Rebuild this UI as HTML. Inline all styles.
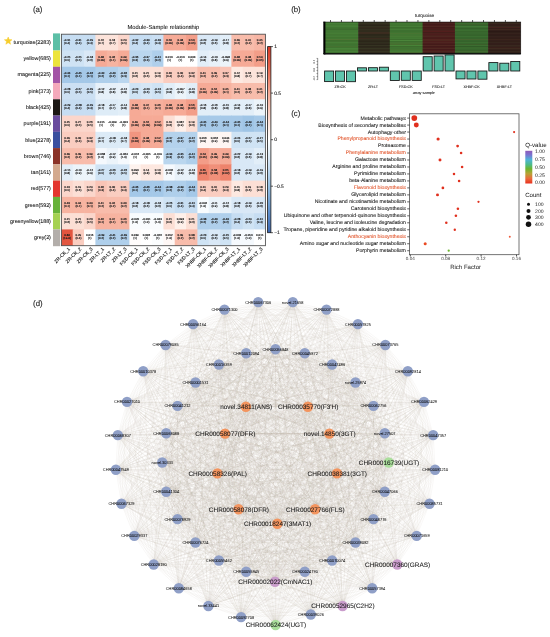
<!DOCTYPE html>
<html><head><meta charset="utf-8"><title>Figure</title>
<style>
html,body{margin:0;padding:0;background:#fff;}
svg{display:block;font-family:"Liberation Sans", Arial, sans-serif;text-rendering:geometricPrecision;}
</style></head><body>
<svg width="550" height="637" viewBox="0 0 550 637">
<rect width="550" height="637" fill="#fff"/>
<g id="pa">
<text x="32.9" y="11.8" font-size="7.8" fill="#222" stroke="#222" stroke-width="0.12">(a)</text>
<text x="163.4" y="28.7" font-size="5.8" text-anchor="middle" fill="#111" stroke="#111" stroke-width="0.06">Module-Sample relationship</text>
<polygon points="8.20,37.00 9.23,39.58 12.00,39.76 9.86,41.54 10.55,44.24 8.20,42.75 5.85,44.24 6.54,41.54 4.40,39.76 7.17,39.58" fill="#f6cd2c" stroke="#f6cd2c" stroke-width="0.5" stroke-linejoin="round"/>
<rect x="53.0" y="33.40" width="7.1" height="17.12" fill="#5cbfa6"/>
<text x="50.9" y="43.88" font-size="5.35" text-anchor="end" fill="#111" stroke="#111" stroke-width="0.08">turquoise(2283)</text>
<rect x="61.40" y="34.20" width="11.93" height="16.87" fill="#c6ddf2"/>
<rect x="72.73" y="34.20" width="11.93" height="16.87" fill="#c6ddf2"/>
<rect x="84.07" y="34.20" width="11.93" height="16.87" fill="#c6ddf2"/>
<rect x="95.40" y="34.20" width="11.93" height="16.87" fill="#fce3da"/>
<rect x="106.73" y="34.20" width="11.93" height="16.87" fill="#fce3da"/>
<rect x="118.07" y="34.20" width="11.93" height="16.87" fill="#fbd6cb"/>
<rect x="129.40" y="34.20" width="11.93" height="16.87" fill="#c6ddf2"/>
<rect x="140.73" y="34.20" width="11.93" height="16.87" fill="#c6ddf2"/>
<rect x="152.07" y="34.20" width="11.93" height="16.87" fill="#cadff3"/>
<rect x="163.40" y="34.20" width="11.93" height="16.87" fill="#f6aa96"/>
<rect x="174.73" y="34.20" width="11.93" height="16.87" fill="#f6aa96"/>
<rect x="186.07" y="34.20" width="11.93" height="16.87" fill="#f39d88"/>
<rect x="197.40" y="34.20" width="11.93" height="16.87" fill="#d9e8f6"/>
<rect x="208.73" y="34.20" width="11.93" height="16.87" fill="#d9e8f6"/>
<rect x="220.07" y="34.20" width="11.93" height="16.87" fill="#e2eef8"/>
<rect x="231.40" y="34.20" width="11.93" height="16.87" fill="#f8bcab"/>
<rect x="242.73" y="34.20" width="11.93" height="16.87" fill="#f8bcab"/>
<rect x="254.07" y="34.20" width="11.33" height="16.87" fill="#f7b6a5"/>
<rect x="53.0" y="50.47" width="7.1" height="16.32" fill="#ece43c"/>
<text x="50.9" y="60.15" font-size="5.35" text-anchor="end" fill="#111" stroke="#111" stroke-width="0.08">yellow(685)</text>
<rect x="61.40" y="50.47" width="11.93" height="16.87" fill="#cfe3f4"/>
<rect x="72.73" y="50.47" width="11.93" height="16.87" fill="#cfe3f4"/>
<rect x="84.07" y="50.47" width="11.93" height="16.87" fill="#d9e8f6"/>
<rect x="95.40" y="50.47" width="11.93" height="16.87" fill="#f6aa96"/>
<rect x="106.73" y="50.47" width="11.93" height="16.87" fill="#f7b3a0"/>
<rect x="118.07" y="50.47" width="11.93" height="16.87" fill="#f6aa96"/>
<rect x="129.40" y="50.47" width="11.93" height="16.87" fill="#bad6ee"/>
<rect x="140.73" y="50.47" width="11.93" height="16.87" fill="#bad6ee"/>
<rect x="152.07" y="50.47" width="11.93" height="16.87" fill="#afcfeb"/>
<rect x="163.40" y="50.47" width="11.93" height="16.87" fill="#ffffff"/>
<rect x="174.73" y="50.47" width="11.93" height="16.87" fill="#ffffff"/>
<rect x="186.07" y="50.47" width="11.93" height="16.87" fill="#ffffff"/>
<rect x="197.40" y="50.47" width="11.93" height="16.87" fill="#e2eef8"/>
<rect x="208.73" y="50.47" width="11.93" height="16.87" fill="#e8f1f9"/>
<rect x="220.07" y="50.47" width="11.93" height="16.87" fill="#ecf4fa"/>
<rect x="231.40" y="50.47" width="11.93" height="16.87" fill="#f6aa96"/>
<rect x="242.73" y="50.47" width="11.93" height="16.87" fill="#f6aa96"/>
<rect x="254.07" y="50.47" width="11.33" height="16.87" fill="#f39d88"/>
<rect x="53.0" y="66.74" width="7.1" height="16.32" fill="#a354a6"/>
<text x="50.9" y="76.42" font-size="5.35" text-anchor="end" fill="#111" stroke="#111" stroke-width="0.08">magenta(225)</text>
<rect x="61.40" y="66.74" width="11.93" height="16.87" fill="#a4c8e8"/>
<rect x="72.73" y="66.74" width="11.93" height="16.87" fill="#a4c8e8"/>
<rect x="84.07" y="66.74" width="11.93" height="16.87" fill="#a4c8e8"/>
<rect x="95.40" y="66.74" width="11.93" height="16.87" fill="#afcfeb"/>
<rect x="106.73" y="66.74" width="11.93" height="16.87" fill="#afcfeb"/>
<rect x="118.07" y="66.74" width="11.93" height="16.87" fill="#bad6ee"/>
<rect x="129.40" y="66.74" width="11.93" height="16.87" fill="#fcdfd5"/>
<rect x="140.73" y="66.74" width="11.93" height="16.87" fill="#fcdfd5"/>
<rect x="152.07" y="66.74" width="11.93" height="16.87" fill="#fcdfd5"/>
<rect x="163.40" y="66.74" width="11.93" height="16.87" fill="#facdc0"/>
<rect x="174.73" y="66.74" width="11.93" height="16.87" fill="#facdc0"/>
<rect x="186.07" y="66.74" width="11.93" height="16.87" fill="#facdc0"/>
<rect x="197.40" y="66.74" width="11.93" height="16.87" fill="#f8bcab"/>
<rect x="208.73" y="66.74" width="11.93" height="16.87" fill="#f8bcab"/>
<rect x="220.07" y="66.74" width="11.93" height="16.87" fill="#f9c4b6"/>
<rect x="231.40" y="66.74" width="11.93" height="16.87" fill="#fdeae2"/>
<rect x="242.73" y="66.74" width="11.93" height="16.87" fill="#fce3da"/>
<rect x="254.07" y="66.74" width="11.33" height="16.87" fill="#fce3da"/>
<rect x="53.0" y="83.01" width="7.1" height="16.32" fill="#f4a9bb"/>
<text x="50.9" y="92.69" font-size="5.35" text-anchor="end" fill="#111" stroke="#111" stroke-width="0.08">pink(373)</text>
<rect x="61.40" y="83.01" width="11.93" height="16.87" fill="#cce0f3"/>
<rect x="72.73" y="83.01" width="11.93" height="16.87" fill="#cce0f3"/>
<rect x="84.07" y="83.01" width="11.93" height="16.87" fill="#cce0f3"/>
<rect x="95.40" y="83.01" width="11.93" height="16.87" fill="#e6f0f9"/>
<rect x="106.73" y="83.01" width="11.93" height="16.87" fill="#e6f0f9"/>
<rect x="118.07" y="83.01" width="11.93" height="16.87" fill="#e8f1f9"/>
<rect x="129.40" y="83.01" width="11.93" height="16.87" fill="#cfe3f4"/>
<rect x="140.73" y="83.01" width="11.93" height="16.87" fill="#d5e6f5"/>
<rect x="152.07" y="83.01" width="11.93" height="16.87" fill="#cfe3f4"/>
<rect x="163.40" y="83.01" width="11.93" height="16.87" fill="#e2eef8"/>
<rect x="174.73" y="83.01" width="11.93" height="16.87" fill="#ecf4fa"/>
<rect x="186.07" y="83.01" width="11.93" height="16.87" fill="#e2eef8"/>
<rect x="197.40" y="83.01" width="11.93" height="16.87" fill="#f6aa96"/>
<rect x="208.73" y="83.01" width="11.93" height="16.87" fill="#f6aa96"/>
<rect x="220.07" y="83.01" width="11.93" height="16.87" fill="#f7b3a0"/>
<rect x="231.40" y="83.01" width="11.93" height="16.87" fill="#f8bcab"/>
<rect x="242.73" y="83.01" width="11.93" height="16.87" fill="#f8bcab"/>
<rect x="254.07" y="83.01" width="11.33" height="16.87" fill="#f8bcab"/>
<rect x="53.0" y="99.28" width="7.1" height="16.32" fill="#1b1714"/>
<text x="50.9" y="108.96" font-size="5.35" text-anchor="end" fill="#111" stroke="#111" stroke-width="0.08">black(425)</text>
<rect x="61.40" y="99.28" width="11.93" height="16.87" fill="#c6ddf2"/>
<rect x="72.73" y="99.28" width="11.93" height="16.87" fill="#c6ddf2"/>
<rect x="84.07" y="99.28" width="11.93" height="16.87" fill="#c6ddf2"/>
<rect x="95.40" y="99.28" width="11.93" height="16.87" fill="#deecf7"/>
<rect x="106.73" y="99.28" width="11.93" height="16.87" fill="#deecf7"/>
<rect x="118.07" y="99.28" width="11.93" height="16.87" fill="#e2eef8"/>
<rect x="129.40" y="99.28" width="11.93" height="16.87" fill="#f6aa96"/>
<rect x="140.73" y="99.28" width="11.93" height="16.87" fill="#f7af9c"/>
<rect x="152.07" y="99.28" width="11.93" height="16.87" fill="#f7af9c"/>
<rect x="163.40" y="99.28" width="11.93" height="16.87" fill="#f6aa96"/>
<rect x="174.73" y="99.28" width="11.93" height="16.87" fill="#f6aa96"/>
<rect x="186.07" y="99.28" width="11.93" height="16.87" fill="#f39d88"/>
<rect x="197.40" y="99.28" width="11.93" height="16.87" fill="#e2eef8"/>
<rect x="208.73" y="99.28" width="11.93" height="16.87" fill="#e2eef8"/>
<rect x="220.07" y="99.28" width="11.93" height="16.87" fill="#e2eef8"/>
<rect x="231.40" y="99.28" width="11.93" height="16.87" fill="#e2eef8"/>
<rect x="242.73" y="99.28" width="11.93" height="16.87" fill="#e2eef8"/>
<rect x="254.07" y="99.28" width="11.33" height="16.87" fill="#ecf4fa"/>
<rect x="53.0" y="115.55" width="7.1" height="16.32" fill="#6a4c9e"/>
<text x="50.9" y="125.23" font-size="5.35" text-anchor="end" fill="#111" stroke="#111" stroke-width="0.08">purple(191)</text>
<rect x="61.40" y="115.55" width="11.93" height="16.87" fill="#fbd6cb"/>
<rect x="72.73" y="115.55" width="11.93" height="16.87" fill="#fbd6cb"/>
<rect x="84.07" y="115.55" width="11.93" height="16.87" fill="#fbd6cb"/>
<rect x="95.40" y="115.55" width="11.93" height="16.87" fill="#ffffff"/>
<rect x="106.73" y="115.55" width="11.93" height="16.87" fill="#ffffff"/>
<rect x="118.07" y="115.55" width="11.93" height="16.87" fill="#ffffff"/>
<rect x="129.40" y="115.55" width="11.93" height="16.87" fill="#f6aa96"/>
<rect x="140.73" y="115.55" width="11.93" height="16.87" fill="#f6aa96"/>
<rect x="152.07" y="115.55" width="11.93" height="16.87" fill="#f6aa96"/>
<rect x="163.40" y="115.55" width="11.93" height="16.87" fill="#fcdfd5"/>
<rect x="174.73" y="115.55" width="11.93" height="16.87" fill="#fef0ea"/>
<rect x="186.07" y="115.55" width="11.93" height="16.87" fill="#fcdfd5"/>
<rect x="197.40" y="115.55" width="11.93" height="16.87" fill="#a6c9e8"/>
<rect x="208.73" y="115.55" width="11.93" height="16.87" fill="#a6c9e8"/>
<rect x="220.07" y="115.55" width="11.93" height="16.87" fill="#a6c9e8"/>
<rect x="231.40" y="115.55" width="11.93" height="16.87" fill="#a6c9e8"/>
<rect x="242.73" y="115.55" width="11.93" height="16.87" fill="#9fc5e6"/>
<rect x="254.07" y="115.55" width="11.33" height="16.87" fill="#a6c9e8"/>
<rect x="53.0" y="131.82" width="7.1" height="16.32" fill="#3a4f9f"/>
<text x="50.9" y="141.50" font-size="5.35" text-anchor="end" fill="#111" stroke="#111" stroke-width="0.08">blue(2278)</text>
<rect x="61.40" y="131.82" width="11.93" height="16.87" fill="#facdc0"/>
<rect x="72.73" y="131.82" width="11.93" height="16.87" fill="#facdc0"/>
<rect x="84.07" y="131.82" width="11.93" height="16.87" fill="#facdc0"/>
<rect x="95.40" y="131.82" width="11.93" height="16.87" fill="#dcebf7"/>
<rect x="106.73" y="131.82" width="11.93" height="16.87" fill="#dcebf7"/>
<rect x="118.07" y="131.82" width="11.93" height="16.87" fill="#dcebf7"/>
<rect x="129.40" y="131.82" width="11.93" height="16.87" fill="#f29580"/>
<rect x="140.73" y="131.82" width="11.93" height="16.87" fill="#f6aa96"/>
<rect x="152.07" y="131.82" width="11.93" height="16.87" fill="#f6aa96"/>
<rect x="163.40" y="131.82" width="11.93" height="16.87" fill="#b4d2ec"/>
<rect x="174.73" y="131.82" width="11.93" height="16.87" fill="#b4d2ec"/>
<rect x="186.07" y="131.82" width="11.93" height="16.87" fill="#b4d2ec"/>
<rect x="197.40" y="131.82" width="11.93" height="16.87" fill="#fef6f3"/>
<rect x="208.73" y="131.82" width="11.93" height="16.87" fill="#fef6f3"/>
<rect x="220.07" y="131.82" width="11.93" height="16.87" fill="#fef6f3"/>
<rect x="231.40" y="131.82" width="11.93" height="16.87" fill="#cfe3f4"/>
<rect x="242.73" y="131.82" width="11.93" height="16.87" fill="#cfe3f4"/>
<rect x="254.07" y="131.82" width="11.33" height="16.87" fill="#cfe3f4"/>
<rect x="53.0" y="148.08" width="7.1" height="16.32" fill="#8b3328"/>
<text x="50.9" y="157.77" font-size="5.35" text-anchor="end" fill="#111" stroke="#111" stroke-width="0.08">brown(746)</text>
<rect x="61.40" y="148.08" width="11.93" height="16.87" fill="#f8bcab"/>
<rect x="72.73" y="148.08" width="11.93" height="16.87" fill="#f8bcab"/>
<rect x="84.07" y="148.08" width="11.93" height="16.87" fill="#f8bcab"/>
<rect x="95.40" y="148.08" width="11.93" height="16.87" fill="#f5f9fd"/>
<rect x="106.73" y="148.08" width="11.93" height="16.87" fill="#ecf4fa"/>
<rect x="118.07" y="148.08" width="11.93" height="16.87" fill="#f5f9fd"/>
<rect x="129.40" y="148.08" width="11.93" height="16.87" fill="#ffffff"/>
<rect x="140.73" y="148.08" width="11.93" height="16.87" fill="#ffffff"/>
<rect x="152.07" y="148.08" width="11.93" height="16.87" fill="#ffffff"/>
<rect x="163.40" y="148.08" width="11.93" height="16.87" fill="#bad6ee"/>
<rect x="174.73" y="148.08" width="11.93" height="16.87" fill="#bad6ee"/>
<rect x="186.07" y="148.08" width="11.93" height="16.87" fill="#afcfeb"/>
<rect x="197.40" y="148.08" width="11.93" height="16.87" fill="#f39d88"/>
<rect x="208.73" y="148.08" width="11.93" height="16.87" fill="#f6aa96"/>
<rect x="220.07" y="148.08" width="11.93" height="16.87" fill="#f6aa96"/>
<rect x="231.40" y="148.08" width="11.93" height="16.87" fill="#d9e8f6"/>
<rect x="242.73" y="148.08" width="11.93" height="16.87" fill="#d9e8f6"/>
<rect x="254.07" y="148.08" width="11.33" height="16.87" fill="#e2eef8"/>
<rect x="53.0" y="164.35" width="7.1" height="16.32" fill="#d3a98e"/>
<text x="50.9" y="174.04" font-size="5.35" text-anchor="end" fill="#111" stroke="#111" stroke-width="0.08">tan(161)</text>
<rect x="61.40" y="164.35" width="11.93" height="16.87" fill="#e2eef8"/>
<rect x="72.73" y="164.35" width="11.93" height="16.87" fill="#ecf4fa"/>
<rect x="84.07" y="164.35" width="11.93" height="16.87" fill="#ecf4fa"/>
<rect x="95.40" y="164.35" width="11.93" height="16.87" fill="#cfe3f4"/>
<rect x="106.73" y="164.35" width="11.93" height="16.87" fill="#cfe3f4"/>
<rect x="118.07" y="164.35" width="11.93" height="16.87" fill="#cfe3f4"/>
<rect x="129.40" y="164.35" width="11.93" height="16.87" fill="#fef3ee"/>
<rect x="140.73" y="164.35" width="11.93" height="16.87" fill="#fde8e0"/>
<rect x="152.07" y="164.35" width="11.93" height="16.87" fill="#fde8e0"/>
<rect x="163.40" y="164.35" width="11.93" height="16.87" fill="#f5f9fd"/>
<rect x="174.73" y="164.35" width="11.93" height="16.87" fill="#e8f1f9"/>
<rect x="186.07" y="164.35" width="11.93" height="16.87" fill="#e8f1f9"/>
<rect x="197.40" y="164.35" width="11.93" height="16.87" fill="#ee836c"/>
<rect x="208.73" y="164.35" width="11.93" height="16.87" fill="#f0907a"/>
<rect x="220.07" y="164.35" width="11.93" height="16.87" fill="#ee836c"/>
<rect x="231.40" y="164.35" width="11.93" height="16.87" fill="#d9e8f6"/>
<rect x="242.73" y="164.35" width="11.93" height="16.87" fill="#d9e8f6"/>
<rect x="254.07" y="164.35" width="11.33" height="16.87" fill="#d9e8f6"/>
<rect x="53.0" y="180.62" width="7.1" height="16.32" fill="#e3362f"/>
<text x="50.9" y="190.31" font-size="5.35" text-anchor="end" fill="#111" stroke="#111" stroke-width="0.08">red(577)</text>
<rect x="61.40" y="180.62" width="11.93" height="16.87" fill="#fbd6cb"/>
<rect x="72.73" y="180.62" width="11.93" height="16.87" fill="#fcdfd5"/>
<rect x="84.07" y="180.62" width="11.93" height="16.87" fill="#fbd6cb"/>
<rect x="95.40" y="180.62" width="11.93" height="16.87" fill="#f9c4b6"/>
<rect x="106.73" y="180.62" width="11.93" height="16.87" fill="#facdc0"/>
<rect x="118.07" y="180.62" width="11.93" height="16.87" fill="#facdc0"/>
<rect x="129.40" y="180.62" width="11.93" height="16.87" fill="#a4c8e8"/>
<rect x="140.73" y="180.62" width="11.93" height="16.87" fill="#a4c8e8"/>
<rect x="152.07" y="180.62" width="11.93" height="16.87" fill="#a4c8e8"/>
<rect x="163.40" y="180.62" width="11.93" height="16.87" fill="#afcfeb"/>
<rect x="174.73" y="180.62" width="11.93" height="16.87" fill="#afcfeb"/>
<rect x="186.07" y="180.62" width="11.93" height="16.87" fill="#a4c8e8"/>
<rect x="197.40" y="180.62" width="11.93" height="16.87" fill="#facdc0"/>
<rect x="208.73" y="180.62" width="11.93" height="16.87" fill="#facdc0"/>
<rect x="220.07" y="180.62" width="11.93" height="16.87" fill="#facdc0"/>
<rect x="231.40" y="180.62" width="11.93" height="16.87" fill="#fde8e0"/>
<rect x="242.73" y="180.62" width="11.93" height="16.87" fill="#fcdfd5"/>
<rect x="254.07" y="180.62" width="11.33" height="16.87" fill="#fcdfd5"/>
<rect x="53.0" y="196.89" width="7.1" height="16.32" fill="#68b23a"/>
<text x="50.9" y="206.58" font-size="5.35" text-anchor="end" fill="#111" stroke="#111" stroke-width="0.08">green(592)</text>
<rect x="61.40" y="196.89" width="11.93" height="16.87" fill="#f7b3a0"/>
<rect x="72.73" y="196.89" width="11.93" height="16.87" fill="#f7b3a0"/>
<rect x="84.07" y="196.89" width="11.93" height="16.87" fill="#f7b3a0"/>
<rect x="95.40" y="196.89" width="11.93" height="16.87" fill="#f8bcab"/>
<rect x="106.73" y="196.89" width="11.93" height="16.87" fill="#f8bcab"/>
<rect x="118.07" y="196.89" width="11.93" height="16.87" fill="#f8bcab"/>
<rect x="129.40" y="196.89" width="11.93" height="16.87" fill="#d9e8f6"/>
<rect x="140.73" y="196.89" width="11.93" height="16.87" fill="#d9e8f6"/>
<rect x="152.07" y="196.89" width="11.93" height="16.87" fill="#d9e8f6"/>
<rect x="163.40" y="196.89" width="11.93" height="16.87" fill="#cfe3f4"/>
<rect x="174.73" y="196.89" width="11.93" height="16.87" fill="#c6ddf2"/>
<rect x="186.07" y="196.89" width="11.93" height="16.87" fill="#c6ddf2"/>
<rect x="197.40" y="196.89" width="11.93" height="16.87" fill="#f9fcfe"/>
<rect x="208.73" y="196.89" width="11.93" height="16.87" fill="#ecf4fa"/>
<rect x="220.07" y="196.89" width="11.93" height="16.87" fill="#e8f1f9"/>
<rect x="231.40" y="196.89" width="11.93" height="16.87" fill="#d9e8f6"/>
<rect x="242.73" y="196.89" width="11.93" height="16.87" fill="#d9e8f6"/>
<rect x="254.07" y="196.89" width="11.33" height="16.87" fill="#d9e8f6"/>
<rect x="53.0" y="213.16" width="7.1" height="16.32" fill="#a5d152"/>
<text x="50.9" y="222.85" font-size="5.35" text-anchor="end" fill="#111" stroke="#111" stroke-width="0.08">greenyellow(188)</text>
<rect x="61.40" y="213.16" width="11.93" height="16.87" fill="#fcdfd5"/>
<rect x="72.73" y="213.16" width="11.93" height="16.87" fill="#fcdfd5"/>
<rect x="84.07" y="213.16" width="11.93" height="16.87" fill="#fbd6cb"/>
<rect x="95.40" y="213.16" width="11.93" height="16.87" fill="#f7b3a0"/>
<rect x="106.73" y="213.16" width="11.93" height="16.87" fill="#f7b3a0"/>
<rect x="118.07" y="213.16" width="11.93" height="16.87" fill="#f7b3a0"/>
<rect x="129.40" y="213.16" width="11.93" height="16.87" fill="#f9fcfe"/>
<rect x="140.73" y="213.16" width="11.93" height="16.87" fill="#f9fcfe"/>
<rect x="152.07" y="213.16" width="11.93" height="16.87" fill="#f9fcfe"/>
<rect x="163.40" y="213.16" width="11.93" height="16.87" fill="#fcdfd5"/>
<rect x="174.73" y="213.16" width="11.93" height="16.87" fill="#fef0ea"/>
<rect x="186.07" y="213.16" width="11.93" height="16.87" fill="#fcdfd5"/>
<rect x="197.40" y="213.16" width="11.93" height="16.87" fill="#afcfeb"/>
<rect x="208.73" y="213.16" width="11.93" height="16.87" fill="#afcfeb"/>
<rect x="220.07" y="213.16" width="11.93" height="16.87" fill="#afcfeb"/>
<rect x="231.40" y="213.16" width="11.93" height="16.87" fill="#c6ddf2"/>
<rect x="242.73" y="213.16" width="11.93" height="16.87" fill="#cfe3f4"/>
<rect x="254.07" y="213.16" width="11.33" height="16.87" fill="#c6ddf2"/>
<rect x="53.0" y="229.43" width="7.1" height="16.77" fill="#b3aeaa"/>
<text x="50.9" y="239.12" font-size="5.35" text-anchor="end" fill="#111" stroke="#111" stroke-width="0.08">grey(2)</text>
<rect x="61.40" y="229.43" width="11.93" height="16.27" fill="#e2553f"/>
<rect x="72.73" y="229.43" width="11.93" height="16.27" fill="#facdc0"/>
<rect x="84.07" y="229.43" width="11.93" height="16.27" fill="#ffffff"/>
<rect x="95.40" y="229.43" width="11.93" height="16.27" fill="#afcfeb"/>
<rect x="106.73" y="229.43" width="11.93" height="16.27" fill="#afcfeb"/>
<rect x="118.07" y="229.43" width="11.93" height="16.27" fill="#afcfeb"/>
<rect x="129.40" y="229.43" width="11.93" height="16.27" fill="#fffcfb"/>
<rect x="140.73" y="229.43" width="11.93" height="16.27" fill="#ffffff"/>
<rect x="152.07" y="229.43" width="11.93" height="16.27" fill="#fbfdfe"/>
<rect x="163.40" y="229.43" width="11.93" height="16.27" fill="#fef7f5"/>
<rect x="174.73" y="229.43" width="11.93" height="16.27" fill="#f8bcab"/>
<rect x="186.07" y="229.43" width="11.93" height="16.27" fill="#f8bcab"/>
<rect x="197.40" y="229.43" width="11.93" height="16.27" fill="#cfe3f4"/>
<rect x="208.73" y="229.43" width="11.93" height="16.27" fill="#d9e8f6"/>
<rect x="220.07" y="229.43" width="11.93" height="16.27" fill="#cfe3f4"/>
<rect x="231.40" y="229.43" width="11.93" height="16.27" fill="#f5f9fd"/>
<rect x="242.73" y="229.43" width="11.93" height="16.27" fill="#f5f9fd"/>
<rect x="254.07" y="229.43" width="11.33" height="16.27" fill="#ffffff"/>
<g font-size="2.95" text-anchor="middle" fill="#1c1c1c" stroke="#1c1c1c" stroke-width="0.14" id="celltxt">
<text x="67.07" y="41">-0.31</text><text x="67.07" y="44">(0.4)</text>
<text x="78.40" y="41">-0.31</text><text x="78.40" y="44">(0.4)</text>
<text x="89.73" y="41">-0.29</text><text x="89.73" y="44">(0.4)</text>
<text x="101.07" y="41">0.16</text><text x="101.07" y="44">(0.7)</text>
<text x="112.40" y="41">0.18</text><text x="112.40" y="44">(0.7)</text>
<text x="123.73" y="41">0.24</text><text x="123.73" y="44">(0.5)</text>
<text x="135.07" y="41">-0.32</text><text x="135.07" y="44">(0.4)</text>
<text x="146.40" y="41">-0.30</text><text x="146.40" y="44">(0.4)</text>
<text x="157.73" y="41">-0.30</text><text x="157.73" y="44">(0.4)</text>
<text x="169.07" y="41">0.50</text><text x="169.07" y="44">(0.09)</text>
<text x="180.40" y="41">0.48</text><text x="180.40" y="44">(0.09)</text>
<text x="191.73" y="41">0.53</text><text x="191.73" y="44">(0.05)</text>
<text x="203.07" y="41">-0.20</text><text x="203.07" y="44">(0.6)</text>
<text x="214.40" y="41">-0.19</text><text x="214.40" y="44">(0.6)</text>
<text x="225.73" y="41">-0.17</text><text x="225.73" y="44">(0.8)</text>
<text x="237.07" y="41">0.39</text><text x="237.07" y="44">(0.2)</text>
<text x="248.40" y="41">0.41</text><text x="248.40" y="44">(0.2)</text>
<text x="259.73" y="41">0.45</text><text x="259.73" y="44">(0.2)</text>
<text x="67.07" y="58">-0.25</text><text x="67.07" y="61">(0.5)</text>
<text x="78.40" y="58">-0.25</text><text x="78.40" y="61">(0.5)</text>
<text x="89.73" y="58">-0.18</text><text x="89.73" y="61">(0.6)</text>
<text x="101.07" y="58">0.48</text><text x="101.07" y="61">(0.09)</text>
<text x="112.40" y="58">0.46</text><text x="112.40" y="61">(0.1)</text>
<text x="123.73" y="58">0.49</text><text x="123.73" y="61">(0.09)</text>
<text x="135.07" y="58">-0.36</text><text x="135.07" y="61">(0.3)</text>
<text x="146.40" y="58">-0.37</text><text x="146.40" y="61">(0.3)</text>
<text x="157.73" y="58">-0.41</text><text x="157.73" y="61">(0.2)</text>
<text x="169.07" y="58">0.013</text><text x="169.07" y="61">(1)</text>
<text x="180.40" y="58">-0.013</text><text x="180.40" y="61">(1)</text>
<text x="191.73" y="58">0.003</text><text x="191.73" y="61">(1)</text>
<text x="203.07" y="58">-0.14</text><text x="203.07" y="61">(0.8)</text>
<text x="214.40" y="58">-0.13</text><text x="214.40" y="61">(0.8)</text>
<text x="225.73" y="58">-0.098</text><text x="225.73" y="61">(0.9)</text>
<text x="237.07" y="58">0.48</text><text x="237.07" y="61">(0.09)</text>
<text x="248.40" y="58">0.48</text><text x="248.40" y="61">(0.09)</text>
<text x="259.73" y="58">0.54</text><text x="259.73" y="61">(0.05)</text>
<text x="67.07" y="74">-0.44</text><text x="67.07" y="77">(0.1)</text>
<text x="78.40" y="74">-0.45</text><text x="78.40" y="77">(0.1)</text>
<text x="89.73" y="74">-0.46</text><text x="89.73" y="77">(0.1)</text>
<text x="101.07" y="74">-0.40</text><text x="101.07" y="77">(0.2)</text>
<text x="112.40" y="74">-0.40</text><text x="112.40" y="77">(0.2)</text>
<text x="123.73" y="74">-0.36</text><text x="123.73" y="77">(0.3)</text>
<text x="135.07" y="74">0.21</text><text x="135.07" y="77">(0.6)</text>
<text x="146.40" y="74">0.21</text><text x="146.40" y="77">(0.6)</text>
<text x="157.73" y="74">0.19</text><text x="157.73" y="77">(0.6)</text>
<text x="169.07" y="74">0.30</text><text x="169.07" y="77">(0.4)</text>
<text x="180.40" y="74">0.30</text><text x="180.40" y="77">(0.4)</text>
<text x="191.73" y="74">0.32</text><text x="191.73" y="77">(0.4)</text>
<text x="203.07" y="74">0.41</text><text x="203.07" y="77">(0.2)</text>
<text x="214.40" y="74">0.39</text><text x="214.40" y="77">(0.2)</text>
<text x="225.73" y="74">0.37</text><text x="225.73" y="77">(0.3)</text>
<text x="237.07" y="74">0.12</text><text x="237.07" y="77">(0.8)</text>
<text x="248.40" y="74">0.18</text><text x="248.40" y="77">(0.7)</text>
<text x="259.73" y="74">0.19</text><text x="259.73" y="77">(0.7)</text>
<text x="67.07" y="90">-0.28</text><text x="67.07" y="93">(0.5)</text>
<text x="78.40" y="90">-0.27</text><text x="78.40" y="93">(0.5)</text>
<text x="89.73" y="90">-0.29</text><text x="89.73" y="93">(0.5)</text>
<text x="101.07" y="90">-0.12</text><text x="101.07" y="93">(0.8)</text>
<text x="112.40" y="90">-0.12</text><text x="112.40" y="93">(0.8)</text>
<text x="123.73" y="90">-0.12</text><text x="123.73" y="93">(0.8)</text>
<text x="135.07" y="90">-0.23</text><text x="135.07" y="93">(0.5)</text>
<text x="146.40" y="90">-0.23</text><text x="146.40" y="93">(0.6)</text>
<text x="157.73" y="90">-0.24</text><text x="157.73" y="93">(0.5)</text>
<text x="169.07" y="90">-0.15</text><text x="169.07" y="93">(0.8)</text>
<text x="180.40" y="90">-0.097</text><text x="180.40" y="93">(0.9)</text>
<text x="191.73" y="90">-0.15</text><text x="191.73" y="93">(0.8)</text>
<text x="203.07" y="90">0.51</text><text x="203.07" y="93">(0.09)</text>
<text x="214.40" y="90">0.52</text><text x="214.40" y="93">(0.09)</text>
<text x="225.73" y="90">0.45</text><text x="225.73" y="93">(0.1)</text>
<text x="237.07" y="90">0.41</text><text x="237.07" y="93">(0.2)</text>
<text x="248.40" y="90">0.38</text><text x="248.40" y="93">(0.2)</text>
<text x="259.73" y="90">0.41</text><text x="259.73" y="93">(0.2)</text>
<text x="67.07" y="106">-0.29</text><text x="67.07" y="109">(0.4)</text>
<text x="78.40" y="106">-0.28</text><text x="78.40" y="109">(0.4)</text>
<text x="89.73" y="106">-0.29</text><text x="89.73" y="109">(0.4)</text>
<text x="101.07" y="106">-0.18</text><text x="101.07" y="109">(0.7)</text>
<text x="112.40" y="106">-0.17</text><text x="112.40" y="109">(0.7)</text>
<text x="123.73" y="106">-0.14</text><text x="123.73" y="109">(0.8)</text>
<text x="135.07" y="106">0.48</text><text x="135.07" y="109">(0.09)</text>
<text x="146.40" y="106">0.47</text><text x="146.40" y="109">(0.1)</text>
<text x="157.73" y="106">0.46</text><text x="157.73" y="109">(0.1)</text>
<text x="169.07" y="106">0.48</text><text x="169.07" y="109">(0.09)</text>
<text x="180.40" y="106">0.48</text><text x="180.40" y="109">(0.09)</text>
<text x="191.73" y="106">0.56</text><text x="191.73" y="109">(0.05)</text>
<text x="203.07" y="106">-0.16</text><text x="203.07" y="109">(0.8)</text>
<text x="214.40" y="106">-0.16</text><text x="214.40" y="109">(0.8)</text>
<text x="225.73" y="106">-0.15</text><text x="225.73" y="109">(0.8)</text>
<text x="237.07" y="106">-0.14</text><text x="237.07" y="109">(0.8)</text>
<text x="248.40" y="106">-0.17</text><text x="248.40" y="109">(0.8)</text>
<text x="259.73" y="106">-0.10</text><text x="259.73" y="109">(0.9)</text>
<text x="67.07" y="123">0.25</text><text x="67.07" y="126">(0.5)</text>
<text x="78.40" y="123">0.27</text><text x="78.40" y="126">(0.5)</text>
<text x="89.73" y="123">0.26</text><text x="89.73" y="126">(0.5)</text>
<text x="101.07" y="123">0.015</text><text x="101.07" y="126">(1)</text>
<text x="112.40" y="123">-0.009</text><text x="112.40" y="126">(1)</text>
<text x="123.73" y="123">-0.003</text><text x="123.73" y="126">(1)</text>
<text x="135.07" y="123">0.49</text><text x="135.07" y="126">(0.09)</text>
<text x="146.40" y="123">0.52</text><text x="146.40" y="126">(0.09)</text>
<text x="157.73" y="123">0.52</text><text x="157.73" y="126">(0.09)</text>
<text x="169.07" y="123">0.19</text><text x="169.07" y="126">(0.6)</text>
<text x="180.40" y="123">0.087</text><text x="180.40" y="126">(0.9)</text>
<text x="191.73" y="123">0.19</text><text x="191.73" y="126">(0.6)</text>
<text x="203.07" y="123">-0.45</text><text x="203.07" y="126">(0.1)</text>
<text x="214.40" y="123">-0.44</text><text x="214.40" y="126">(0.1)</text>
<text x="225.73" y="123">-0.44</text><text x="225.73" y="126">(0.1)</text>
<text x="237.07" y="123">-0.45</text><text x="237.07" y="126">(0.1)</text>
<text x="248.40" y="123">-0.49</text><text x="248.40" y="126">(0.1)</text>
<text x="259.73" y="123">-0.44</text><text x="259.73" y="126">(0.1)</text>
<text x="67.07" y="139">0.29</text><text x="67.07" y="142">(0.4)</text>
<text x="78.40" y="139">0.30</text><text x="78.40" y="142">(0.4)</text>
<text x="89.73" y="139">0.32</text><text x="89.73" y="142">(0.4)</text>
<text x="101.07" y="139">-0.17</text><text x="101.07" y="142">(0.7)</text>
<text x="112.40" y="139">-0.18</text><text x="112.40" y="142">(0.7)</text>
<text x="123.73" y="139">-0.18</text><text x="123.73" y="142">(0.7)</text>
<text x="135.07" y="139">0.59</text><text x="135.07" y="142">(0.04)</text>
<text x="146.40" y="139">0.48</text><text x="146.40" y="142">(0.09)</text>
<text x="157.73" y="139">0.52</text><text x="157.73" y="142">(0.09)</text>
<text x="169.07" y="139">-0.37</text><text x="169.07" y="142">(0.2)</text>
<text x="180.40" y="139">-0.37</text><text x="180.40" y="142">(0.2)</text>
<text x="191.73" y="139">-0.37</text><text x="191.73" y="142">(0.2)</text>
<text x="203.07" y="139">0.056</text><text x="203.07" y="142">(0.9)</text>
<text x="214.40" y="139">0.056</text><text x="214.40" y="142">(0.9)</text>
<text x="225.73" y="139">0.044</text><text x="225.73" y="142">(0.9)</text>
<text x="237.07" y="139">-0.24</text><text x="237.07" y="142">(0.5)</text>
<text x="248.40" y="139">-0.27</text><text x="248.40" y="142">(0.5)</text>
<text x="259.73" y="139">-0.27</text><text x="259.73" y="142">(0.5)</text>
<text x="67.07" y="155">0.39</text><text x="67.07" y="158">(0.2)</text>
<text x="78.40" y="155">0.39</text><text x="78.40" y="158">(0.2)</text>
<text x="89.73" y="155">0.39</text><text x="89.73" y="158">(0.2)</text>
<text x="101.07" y="155">-0.068</text><text x="101.07" y="158">(1.0)</text>
<text x="112.40" y="155">-0.12</text><text x="112.40" y="158">(0.9)</text>
<text x="123.73" y="155">-0.064</text><text x="123.73" y="158">(1.0)</text>
<text x="135.07" y="155">-0.016</text><text x="135.07" y="158">(1)</text>
<text x="146.40" y="155">-0.005</text><text x="146.40" y="158">(1)</text>
<text x="157.73" y="155">-0.019</text><text x="157.73" y="158">(1)</text>
<text x="169.07" y="155">-0.34</text><text x="169.07" y="158">(0.3)</text>
<text x="180.40" y="155">-0.35</text><text x="180.40" y="158">(0.3)</text>
<text x="191.73" y="155">-0.41</text><text x="191.73" y="158">(0.2)</text>
<text x="203.07" y="155">0.54</text><text x="203.07" y="158">(0.05)</text>
<text x="214.40" y="155">0.49</text><text x="214.40" y="158">(0.09)</text>
<text x="225.73" y="155">0.49</text><text x="225.73" y="158">(0.09)</text>
<text x="237.07" y="155">-0.22</text><text x="237.07" y="158">(0.6)</text>
<text x="248.40" y="155">-0.19</text><text x="248.40" y="158">(0.6)</text>
<text x="259.73" y="155">-0.13</text><text x="259.73" y="158">(0.8)</text>
<text x="67.07" y="171">-0.15</text><text x="67.07" y="174">(0.8)</text>
<text x="78.40" y="171">-0.10</text><text x="78.40" y="174">(0.9)</text>
<text x="89.73" y="171">-0.12</text><text x="89.73" y="174">(0.9)</text>
<text x="101.07" y="171">-0.27</text><text x="101.07" y="174">(0.5)</text>
<text x="112.40" y="171">-0.26</text><text x="112.40" y="174">(0.5)</text>
<text x="123.73" y="171">-0.26</text><text x="123.73" y="174">(0.5)</text>
<text x="135.07" y="171">0.093</text><text x="135.07" y="174">(0.9)</text>
<text x="146.40" y="171">0.14</text><text x="146.40" y="174">(0.8)</text>
<text x="157.73" y="171">0.13</text><text x="157.73" y="174">(0.8)</text>
<text x="169.07" y="171">-0.032</text><text x="169.07" y="174">(1.0)</text>
<text x="180.40" y="171">-0.12</text><text x="180.40" y="174">(0.8)</text>
<text x="191.73" y="171">-0.13</text><text x="191.73" y="174">(0.8)</text>
<text x="203.07" y="171">0.65</text><text x="203.07" y="174">(0.02)</text>
<text x="214.40" y="171">0.58</text><text x="214.40" y="174">(0.03)</text>
<text x="225.73" y="171">0.65</text><text x="225.73" y="174">(0.02)</text>
<text x="237.07" y="171">-0.18</text><text x="237.07" y="174">(0.6)</text>
<text x="248.40" y="171">-0.19</text><text x="248.40" y="174">(0.6)</text>
<text x="259.73" y="171">-0.19</text><text x="259.73" y="174">(0.6)</text>
<text x="67.07" y="188">0.24</text><text x="67.07" y="191">(0.5)</text>
<text x="78.40" y="188">0.19</text><text x="78.40" y="191">(0.6)</text>
<text x="89.73" y="188">0.24</text><text x="89.73" y="191">(0.5)</text>
<text x="101.07" y="188">0.36</text><text x="101.07" y="191">(0.3)</text>
<text x="112.40" y="188">0.30</text><text x="112.40" y="191">(0.4)</text>
<text x="123.73" y="188">0.31</text><text x="123.73" y="191">(0.4)</text>
<text x="135.07" y="188">-0.46</text><text x="135.07" y="191">(0.1)</text>
<text x="146.40" y="188">-0.46</text><text x="146.40" y="191">(0.1)</text>
<text x="157.73" y="188">-0.44</text><text x="157.73" y="191">(0.1)</text>
<text x="169.07" y="188">-0.38</text><text x="169.07" y="191">(0.2)</text>
<text x="180.40" y="188">-0.39</text><text x="180.40" y="191">(0.2)</text>
<text x="191.73" y="188">-0.44</text><text x="191.73" y="191">(0.1)</text>
<text x="203.07" y="188">0.31</text><text x="203.07" y="191">(0.4)</text>
<text x="214.40" y="188">0.31</text><text x="214.40" y="191">(0.4)</text>
<text x="225.73" y="188">0.29</text><text x="225.73" y="191">(0.4)</text>
<text x="237.07" y="188">0.15</text><text x="237.07" y="191">(0.8)</text>
<text x="248.40" y="188">0.19</text><text x="248.40" y="191">(0.6)</text>
<text x="259.73" y="188">0.18</text><text x="259.73" y="191">(0.6)</text>
<text x="67.07" y="204">0.43</text><text x="67.07" y="207">(0.1)</text>
<text x="78.40" y="204">0.44</text><text x="78.40" y="207">(0.1)</text>
<text x="89.73" y="204">0.44</text><text x="89.73" y="207">(0.1)</text>
<text x="101.07" y="204">0.41</text><text x="101.07" y="207">(0.2)</text>
<text x="112.40" y="204">0.42</text><text x="112.40" y="207">(0.2)</text>
<text x="123.73" y="204">0.40</text><text x="123.73" y="207">(0.2)</text>
<text x="135.07" y="204">-0.18</text><text x="135.07" y="207">(0.6)</text>
<text x="146.40" y="204">-0.18</text><text x="146.40" y="207">(0.6)</text>
<text x="157.73" y="204">-0.18</text><text x="157.73" y="207">(0.6)</text>
<text x="169.07" y="204">-0.26</text><text x="169.07" y="207">(0.5)</text>
<text x="180.40" y="204">-0.31</text><text x="180.40" y="207">(0.4)</text>
<text x="191.73" y="204">-0.31</text><text x="191.73" y="207">(0.4)</text>
<text x="203.07" y="204">-0.042</text><text x="203.07" y="207">(1.0)</text>
<text x="214.40" y="204">-0.11</text><text x="214.40" y="207">(0.9)</text>
<text x="225.73" y="204">-0.12</text><text x="225.73" y="207">(0.8)</text>
<text x="237.07" y="204">-0.18</text><text x="237.07" y="207">(0.6)</text>
<text x="248.40" y="204">-0.19</text><text x="248.40" y="207">(0.6)</text>
<text x="259.73" y="204">-0.20</text><text x="259.73" y="207">(0.6)</text>
<text x="67.07" y="220">0.21</text><text x="67.07" y="223">(0.6)</text>
<text x="78.40" y="220">0.21</text><text x="78.40" y="223">(0.6)</text>
<text x="89.73" y="220">0.23</text><text x="89.73" y="223">(0.5)</text>
<text x="101.07" y="220">0.46</text><text x="101.07" y="223">(0.1)</text>
<text x="112.40" y="220">0.47</text><text x="112.40" y="223">(0.1)</text>
<text x="123.73" y="220">0.46</text><text x="123.73" y="223">(0.1)</text>
<text x="135.07" y="220">-0.020</text><text x="135.07" y="223">(1.0)</text>
<text x="146.40" y="220">-0.031</text><text x="146.40" y="223">(1.0)</text>
<text x="157.73" y="220">-0.043</text><text x="157.73" y="223">(1.0)</text>
<text x="169.07" y="220">0.21</text><text x="169.07" y="223">(0.6)</text>
<text x="180.40" y="220">0.093</text><text x="180.40" y="223">(0.9)</text>
<text x="191.73" y="220">0.21</text><text x="191.73" y="223">(0.6)</text>
<text x="203.07" y="220">-0.38</text><text x="203.07" y="223">(0.2)</text>
<text x="214.40" y="220">-0.40</text><text x="214.40" y="223">(0.2)</text>
<text x="225.73" y="220">-0.40</text><text x="225.73" y="223">(0.2)</text>
<text x="237.07" y="220">-0.28</text><text x="237.07" y="223">(0.4)</text>
<text x="248.40" y="220">-0.24</text><text x="248.40" y="223">(0.5)</text>
<text x="259.73" y="220">-0.31</text><text x="259.73" y="223">(0.4)</text>
<text x="67.07" y="236">0.84</text><text x="67.07" y="239">(1e-3)</text>
<text x="78.40" y="236">0.29</text><text x="78.40" y="239">(0.4)</text>
<text x="89.73" y="236">0.016</text><text x="89.73" y="239">(1)</text>
<text x="101.07" y="236">-0.39</text><text x="101.07" y="239">(0.2)</text>
<text x="112.40" y="236">-0.41</text><text x="112.40" y="239">(0.2)</text>
<text x="123.73" y="236">-0.39</text><text x="123.73" y="239">(0.2)</text>
<text x="135.07" y="236">0.039</text><text x="135.07" y="239">(1)</text>
<text x="146.40" y="236">0.006</text><text x="146.40" y="239">(1)</text>
<text x="157.73" y="236">-0.026</text><text x="157.73" y="239">(1)</text>
<text x="169.07" y="236">0.052</text><text x="169.07" y="239">(1.0)</text>
<text x="180.40" y="236">0.39</text><text x="180.40" y="239">(0.2)</text>
<text x="191.73" y="236">0.38</text><text x="191.73" y="239">(0.2)</text>
<text x="203.07" y="236">-0.23</text><text x="203.07" y="239">(0.5)</text>
<text x="214.40" y="236">-0.19</text><text x="214.40" y="239">(0.6)</text>
<text x="225.73" y="236">-0.25</text><text x="225.73" y="239">(0.5)</text>
<text x="237.07" y="236">-0.033</text><text x="237.07" y="239">(1.0)</text>
<text x="248.40" y="236">-0.053</text><text x="248.40" y="239">(1.0)</text>
<text x="259.73" y="236">0.015</text><text x="259.73" y="239">(1)</text>
</g>
<rect x="61.4" y="34.2" width="203.99999999999997" height="211.5" fill="none" stroke="#4a4a4a" stroke-width="0.85"/>
<g font-size="4.8" text-anchor="end" fill="#111" stroke="#111" stroke-width="0.1">
<text transform="translate(70.27,249.30) rotate(-45)" x="0" y="0">ZR-CK_1</text>
<text transform="translate(81.60,249.30) rotate(-45)" x="0" y="0">ZR-CK_2</text>
<text transform="translate(92.93,249.30) rotate(-45)" x="0" y="0">ZR-CK_3</text>
<text transform="translate(104.27,249.30) rotate(-45)" x="0" y="0">ZR-LT_1</text>
<text transform="translate(115.60,249.30) rotate(-45)" x="0" y="0">ZR-LT_2</text>
<text transform="translate(126.93,249.30) rotate(-45)" x="0" y="0">ZR-LT_3</text>
<text transform="translate(138.27,249.30) rotate(-45)" x="0" y="0">FSD-CK_1</text>
<text transform="translate(149.60,249.30) rotate(-45)" x="0" y="0">FSD-CK_2</text>
<text transform="translate(160.93,249.30) rotate(-45)" x="0" y="0">FSD-CK_3</text>
<text transform="translate(172.27,249.30) rotate(-45)" x="0" y="0">FSD-LT_1</text>
<text transform="translate(183.60,249.30) rotate(-45)" x="0" y="0">FSD-LT_2</text>
<text transform="translate(194.93,249.30) rotate(-45)" x="0" y="0">FSD-LT_3</text>
<text transform="translate(206.27,249.30) rotate(-45)" x="0" y="0">XHBF-CK_1</text>
<text transform="translate(217.60,249.30) rotate(-45)" x="0" y="0">XHBF-CK_2</text>
<text transform="translate(228.93,249.30) rotate(-45)" x="0" y="0">XHBF-CK_3</text>
<text transform="translate(240.27,249.30) rotate(-45)" x="0" y="0">XHBF-LT_1</text>
<text transform="translate(251.60,249.30) rotate(-45)" x="0" y="0">XHBF-LT_2</text>
<text transform="translate(262.93,249.30) rotate(-45)" x="0" y="0">XHBF-LT_3</text>
</g>
<defs><linearGradient id="cb" x1="0" y1="0" x2="0" y2="1">
<stop offset="0%" stop-color="#d83826"/>
<stop offset="5%" stop-color="#de4c37"/>
<stop offset="10%" stop-color="#e55f48"/>
<stop offset="15%" stop-color="#eb765e"/>
<stop offset="20%" stop-color="#f0907a"/>
<stop offset="25%" stop-color="#f6aa96"/>
<stop offset="30%" stop-color="#f8bcab"/>
<stop offset="35%" stop-color="#facdc0"/>
<stop offset="40%" stop-color="#fcdfd5"/>
<stop offset="45%" stop-color="#fef0ea"/>
<stop offset="50%" stop-color="#ffffff"/>
<stop offset="55%" stop-color="#ecf4fa"/>
<stop offset="60%" stop-color="#d9e8f6"/>
<stop offset="65%" stop-color="#c6ddf2"/>
<stop offset="70%" stop-color="#afcfeb"/>
<stop offset="75%" stop-color="#98c1e4"/>
<stop offset="80%" stop-color="#83b0dc"/>
<stop offset="85%" stop-color="#6e9fd4"/>
<stop offset="90%" stop-color="#5c8cca"/>
<stop offset="95%" stop-color="#4b79be"/>
<stop offset="100%" stop-color="#3a66b2"/>
</linearGradient></defs>
<rect x="267.6" y="46.6" width="3.3" height="186.1" fill="url(#cb)" stroke="#1a1a1a" stroke-width="0.8"/>
<g font-size="4.9" fill="#111" stroke="#111" stroke-width="0.08">
<line x1="270.9" y1="46.6" x2="273.0" y2="46.6" stroke="#1a1a1a" stroke-width="0.7"/>
<text x="274.2" y="48.300000000000004">1</text>
<line x1="270.9" y1="93.1" x2="273.0" y2="93.1" stroke="#1a1a1a" stroke-width="0.7"/>
<text x="274.2" y="94.8">0.5</text>
<line x1="270.9" y1="139.7" x2="273.0" y2="139.7" stroke="#1a1a1a" stroke-width="0.7"/>
<text x="274.2" y="141.39999999999998">0</text>
<line x1="270.9" y1="186.2" x2="273.0" y2="186.2" stroke="#1a1a1a" stroke-width="0.7"/>
<text x="274.2" y="187.89999999999998">−0.5</text>
<line x1="270.9" y1="232.7" x2="273.0" y2="232.7" stroke="#1a1a1a" stroke-width="0.7"/>
<text x="274.2" y="234.39999999999998">−1</text>
</g>
</g>
<g id="pb">
<text x="291.2" y="11.5" font-size="7.8" fill="#222" stroke="#222" stroke-width="0.12">(b)</text>
<text x="424.5" y="17.0" font-size="4.65" text-anchor="middle" fill="#111" stroke="#111" stroke-width="0.06">turquoise</text>
<defs>
<pattern id="hl" width="4" height="3.1" patternUnits="userSpaceOnUse"><rect width="4" height="3.1" fill="none"/><rect y="0.6" width="4" height="0.45" fill="#000" opacity="0.22"/><rect y="1.9" width="4" height="0.35" fill="#9f9" opacity="0.10"/><rect y="2.6" width="4" height="0.3" fill="#000" opacity="0.12"/></pattern>
</defs>
<rect x="324.00" y="22.0" width="34.80" height="31.799999999999997" fill="#447c34"/>
<rect x="358.20" y="22.0" width="32.20" height="31.799999999999997" fill="#322c1e"/>
<rect x="389.80" y="22.0" width="33.40" height="31.799999999999997" fill="#447c34"/>
<rect x="422.60" y="22.0" width="32.90" height="31.799999999999997" fill="#4e1f1d"/>
<rect x="454.90" y="22.0" width="33.80" height="31.799999999999997" fill="#396a2e"/>
<rect x="488.10" y="22.0" width="32.70" height="31.799999999999997" fill="#36201b"/>
<rect x="323.7" y="22.0" width="197.10" height="31.799999999999997" fill="url(#hl)"/>
<rect x="358.20" y="22.00" width="31.60" height="0.4" fill="#563" opacity="0.26"/>
<rect x="422.60" y="22.00" width="32.30" height="0.4" fill="#563" opacity="0.05"/>
<rect x="454.90" y="22.00" width="33.20" height="0.4" fill="#a33" opacity="0.10"/>
<rect x="488.10" y="22.00" width="32.70" height="0.4" fill="#563" opacity="0.18"/>
<rect x="389.80" y="22.80" width="32.80" height="0.4" fill="#000" opacity="0.22"/>
<rect x="422.60" y="22.80" width="32.30" height="0.4" fill="#000" opacity="0.27"/>
<rect x="454.90" y="22.80" width="33.20" height="0.4" fill="#7c6" opacity="0.06"/>
<rect x="488.10" y="22.80" width="32.70" height="0.4" fill="#563" opacity="0.22"/>
<rect x="422.60" y="24.10" width="32.30" height="0.7" fill="#000" opacity="0.13"/>
<rect x="454.90" y="24.10" width="33.20" height="0.7" fill="#a33" opacity="0.10"/>
<rect x="324.00" y="25.40" width="34.20" height="0.7" fill="#7c6" opacity="0.14"/>
<rect x="358.20" y="25.40" width="31.60" height="0.7" fill="#000" opacity="0.14"/>
<rect x="454.90" y="26.50" width="33.20" height="0.5" fill="#7c6" opacity="0.24"/>
<rect x="488.10" y="26.50" width="32.70" height="0.5" fill="#563" opacity="0.06"/>
<rect x="358.20" y="27.20" width="31.60" height="0.5" fill="#a33" opacity="0.08"/>
<rect x="389.80" y="27.20" width="32.80" height="0.5" fill="#000" opacity="0.15"/>
<rect x="422.60" y="27.20" width="32.30" height="0.5" fill="#000" opacity="0.19"/>
<rect x="454.90" y="27.20" width="33.20" height="0.5" fill="#7c6" opacity="0.18"/>
<rect x="488.10" y="27.20" width="32.70" height="0.5" fill="#a33" opacity="0.28"/>
<rect x="324.00" y="27.90" width="34.20" height="0.3" fill="#000" opacity="0.17"/>
<rect x="389.80" y="27.90" width="32.80" height="0.3" fill="#000" opacity="0.11"/>
<rect x="454.90" y="27.90" width="33.20" height="0.3" fill="#000" opacity="0.13"/>
<rect x="324.00" y="29.10" width="34.20" height="0.7" fill="#000" opacity="0.17"/>
<rect x="422.60" y="29.10" width="32.30" height="0.7" fill="#000" opacity="0.15"/>
<rect x="488.10" y="29.10" width="32.70" height="0.7" fill="#a33" opacity="0.11"/>
<rect x="389.80" y="30.40" width="32.80" height="0.3" fill="#000" opacity="0.14"/>
<rect x="422.60" y="30.40" width="32.30" height="0.3" fill="#563" opacity="0.19"/>
<rect x="454.90" y="30.40" width="33.20" height="0.3" fill="#7c6" opacity="0.26"/>
<rect x="358.20" y="30.90" width="31.60" height="0.3" fill="#563" opacity="0.13"/>
<rect x="389.80" y="30.90" width="32.80" height="0.3" fill="#000" opacity="0.19"/>
<rect x="422.60" y="30.90" width="32.30" height="0.3" fill="#a33" opacity="0.12"/>
<rect x="488.10" y="30.90" width="32.70" height="0.3" fill="#000" opacity="0.23"/>
<rect x="324.00" y="31.40" width="34.20" height="0.4" fill="#7c6" opacity="0.10"/>
<rect x="358.20" y="31.40" width="31.60" height="0.4" fill="#563" opacity="0.09"/>
<rect x="422.60" y="31.40" width="32.30" height="0.4" fill="#a33" opacity="0.19"/>
<rect x="488.10" y="31.40" width="32.70" height="0.4" fill="#000" opacity="0.24"/>
<rect x="358.20" y="32.00" width="31.60" height="0.5" fill="#a33" opacity="0.18"/>
<rect x="389.80" y="32.00" width="32.80" height="0.5" fill="#000" opacity="0.08"/>
<rect x="422.60" y="32.00" width="32.30" height="0.5" fill="#000" opacity="0.24"/>
<rect x="488.10" y="32.00" width="32.70" height="0.5" fill="#000" opacity="0.24"/>
<rect x="324.00" y="33.10" width="34.20" height="0.4" fill="#7c6" opacity="0.17"/>
<rect x="358.20" y="33.10" width="31.60" height="0.4" fill="#a33" opacity="0.20"/>
<rect x="389.80" y="33.10" width="32.80" height="0.4" fill="#a33" opacity="0.14"/>
<rect x="422.60" y="33.10" width="32.30" height="0.4" fill="#563" opacity="0.05"/>
<rect x="422.60" y="33.90" width="32.30" height="0.3" fill="#a33" opacity="0.12"/>
<rect x="358.20" y="34.80" width="31.60" height="0.3" fill="#000" opacity="0.26"/>
<rect x="488.10" y="34.80" width="32.70" height="0.3" fill="#000" opacity="0.22"/>
<rect x="358.20" y="35.70" width="31.60" height="0.4" fill="#000" opacity="0.15"/>
<rect x="389.80" y="35.70" width="32.80" height="0.4" fill="#a33" opacity="0.11"/>
<rect x="454.90" y="35.70" width="33.20" height="0.4" fill="#000" opacity="0.10"/>
<rect x="488.10" y="35.70" width="32.70" height="0.4" fill="#000" opacity="0.24"/>
<rect x="422.60" y="36.50" width="32.30" height="0.5" fill="#563" opacity="0.19"/>
<rect x="454.90" y="36.50" width="33.20" height="0.5" fill="#7c6" opacity="0.11"/>
<rect x="324.00" y="37.90" width="34.20" height="0.3" fill="#000" opacity="0.23"/>
<rect x="422.60" y="37.90" width="32.30" height="0.3" fill="#563" opacity="0.06"/>
<rect x="324.00" y="38.40" width="34.20" height="0.7" fill="#7c6" opacity="0.12"/>
<rect x="358.20" y="38.40" width="31.60" height="0.7" fill="#a33" opacity="0.14"/>
<rect x="389.80" y="38.40" width="32.80" height="0.7" fill="#7c6" opacity="0.09"/>
<rect x="422.60" y="38.40" width="32.30" height="0.7" fill="#000" opacity="0.08"/>
<rect x="488.10" y="38.40" width="32.70" height="0.7" fill="#000" opacity="0.07"/>
<rect x="324.00" y="39.30" width="34.20" height="0.5" fill="#a33" opacity="0.20"/>
<rect x="389.80" y="39.30" width="32.80" height="0.5" fill="#000" opacity="0.25"/>
<rect x="422.60" y="39.30" width="32.30" height="0.5" fill="#a33" opacity="0.16"/>
<rect x="454.90" y="39.30" width="33.20" height="0.5" fill="#a33" opacity="0.21"/>
<rect x="488.10" y="39.30" width="32.70" height="0.5" fill="#a33" opacity="0.10"/>
<rect x="324.00" y="40.00" width="34.20" height="0.7" fill="#000" opacity="0.08"/>
<rect x="389.80" y="40.00" width="32.80" height="0.7" fill="#7c6" opacity="0.26"/>
<rect x="422.60" y="40.00" width="32.30" height="0.7" fill="#563" opacity="0.21"/>
<rect x="324.00" y="40.90" width="34.20" height="0.3" fill="#a33" opacity="0.10"/>
<rect x="358.20" y="40.90" width="31.60" height="0.3" fill="#000" opacity="0.07"/>
<rect x="422.60" y="40.90" width="32.30" height="0.3" fill="#a33" opacity="0.24"/>
<rect x="488.10" y="40.90" width="32.70" height="0.3" fill="#563" opacity="0.24"/>
<rect x="358.20" y="41.80" width="31.60" height="0.5" fill="#000" opacity="0.23"/>
<rect x="389.80" y="41.80" width="32.80" height="0.5" fill="#000" opacity="0.22"/>
<rect x="488.10" y="41.80" width="32.70" height="0.5" fill="#000" opacity="0.07"/>
<rect x="389.80" y="42.70" width="32.80" height="0.7" fill="#a33" opacity="0.13"/>
<rect x="358.20" y="44.30" width="31.60" height="0.4" fill="#000" opacity="0.22"/>
<rect x="389.80" y="44.30" width="32.80" height="0.4" fill="#a33" opacity="0.18"/>
<rect x="422.60" y="44.30" width="32.30" height="0.4" fill="#000" opacity="0.14"/>
<rect x="454.90" y="44.30" width="33.20" height="0.4" fill="#a33" opacity="0.16"/>
<rect x="324.00" y="45.60" width="34.20" height="0.4" fill="#000" opacity="0.22"/>
<rect x="389.80" y="45.60" width="32.80" height="0.4" fill="#7c6" opacity="0.10"/>
<rect x="324.00" y="46.60" width="34.20" height="0.4" fill="#a33" opacity="0.11"/>
<rect x="358.20" y="46.60" width="31.60" height="0.4" fill="#000" opacity="0.18"/>
<rect x="389.80" y="46.60" width="32.80" height="0.4" fill="#000" opacity="0.23"/>
<rect x="422.60" y="46.60" width="32.30" height="0.4" fill="#000" opacity="0.21"/>
<rect x="454.90" y="46.60" width="33.20" height="0.4" fill="#000" opacity="0.24"/>
<rect x="488.10" y="46.60" width="32.70" height="0.4" fill="#563" opacity="0.22"/>
<rect x="454.90" y="47.20" width="33.20" height="0.7" fill="#7c6" opacity="0.10"/>
<rect x="488.10" y="47.20" width="32.70" height="0.7" fill="#a33" opacity="0.09"/>
<rect x="389.80" y="48.30" width="32.80" height="0.4" fill="#000" opacity="0.26"/>
<rect x="454.90" y="48.30" width="33.20" height="0.4" fill="#000" opacity="0.15"/>
<rect x="488.10" y="48.30" width="32.70" height="0.4" fill="#a33" opacity="0.11"/>
<rect x="324.00" y="48.90" width="34.20" height="0.5" fill="#7c6" opacity="0.22"/>
<rect x="358.20" y="48.90" width="31.60" height="0.5" fill="#563" opacity="0.13"/>
<rect x="389.80" y="48.90" width="32.80" height="0.5" fill="#a33" opacity="0.07"/>
<rect x="422.60" y="48.90" width="32.30" height="0.5" fill="#000" opacity="0.18"/>
<rect x="488.10" y="48.90" width="32.70" height="0.5" fill="#563" opacity="0.15"/>
<rect x="324.00" y="50.00" width="34.20" height="0.3" fill="#7c6" opacity="0.21"/>
<rect x="389.80" y="50.00" width="32.80" height="0.3" fill="#7c6" opacity="0.21"/>
<rect x="422.60" y="50.00" width="32.30" height="0.3" fill="#a33" opacity="0.27"/>
<rect x="488.10" y="50.00" width="32.70" height="0.3" fill="#563" opacity="0.08"/>
<rect x="422.60" y="50.90" width="32.30" height="0.3" fill="#000" opacity="0.20"/>
<rect x="454.90" y="50.90" width="33.20" height="0.3" fill="#a33" opacity="0.25"/>
<rect x="488.10" y="50.90" width="32.70" height="0.3" fill="#000" opacity="0.26"/>
<rect x="389.80" y="51.80" width="32.80" height="0.7" fill="#000" opacity="0.12"/>
<rect x="454.90" y="51.80" width="33.20" height="0.7" fill="#a33" opacity="0.09"/>
<rect x="488.10" y="51.80" width="32.70" height="0.7" fill="#563" opacity="0.11"/>
<rect x="324.00" y="52.70" width="34.20" height="0.4" fill="#000" opacity="0.17"/>
<rect x="389.80" y="52.70" width="32.80" height="0.4" fill="#a33" opacity="0.25"/>
<rect x="422.60" y="52.70" width="32.30" height="0.4" fill="#000" opacity="0.24"/>
<rect x="454.90" y="52.70" width="33.20" height="0.4" fill="#000" opacity="0.24"/>
<rect x="488.10" y="52.70" width="32.70" height="0.4" fill="#000" opacity="0.19"/>
<rect x="422.60" y="53.30" width="32.30" height="0.4" fill="#000" opacity="0.28"/>
<rect x="488.10" y="53.30" width="32.70" height="0.4" fill="#000" opacity="0.14"/>
<rect x="323.7" y="22.0" width="197.10" height="31.799999999999997" fill="none" stroke="#111" stroke-width="0.5"/>
<rect x="323.59999999999997" y="21.7" width="1.8" height="32.699999999999996" fill="#000"/>
<rect x="323.7" y="53.199999999999996" width="197.10" height="1.3" fill="#0a0a0a"/>
<line x1="330.50" y1="22.0" x2="330.50" y2="20.0" stroke="#111" stroke-width="0.7"/>
<line x1="341.43" y1="22.0" x2="341.43" y2="20.0" stroke="#111" stroke-width="0.7"/>
<line x1="352.36" y1="22.0" x2="352.36" y2="20.0" stroke="#111" stroke-width="0.7"/>
<line x1="363.29" y1="22.0" x2="363.29" y2="20.0" stroke="#111" stroke-width="0.7"/>
<line x1="374.22" y1="22.0" x2="374.22" y2="20.0" stroke="#111" stroke-width="0.7"/>
<line x1="385.15" y1="22.0" x2="385.15" y2="20.0" stroke="#111" stroke-width="0.7"/>
<line x1="396.08" y1="22.0" x2="396.08" y2="20.0" stroke="#111" stroke-width="0.7"/>
<line x1="407.01" y1="22.0" x2="407.01" y2="20.0" stroke="#111" stroke-width="0.7"/>
<line x1="417.94" y1="22.0" x2="417.94" y2="20.0" stroke="#111" stroke-width="0.7"/>
<line x1="428.87" y1="22.0" x2="428.87" y2="20.0" stroke="#111" stroke-width="0.7"/>
<line x1="439.80" y1="22.0" x2="439.80" y2="20.0" stroke="#111" stroke-width="0.7"/>
<line x1="450.73" y1="22.0" x2="450.73" y2="20.0" stroke="#111" stroke-width="0.7"/>
<line x1="461.66" y1="22.0" x2="461.66" y2="20.0" stroke="#111" stroke-width="0.7"/>
<line x1="472.59" y1="22.0" x2="472.59" y2="20.0" stroke="#111" stroke-width="0.7"/>
<line x1="483.52" y1="22.0" x2="483.52" y2="20.0" stroke="#111" stroke-width="0.7"/>
<line x1="494.45" y1="22.0" x2="494.45" y2="20.0" stroke="#111" stroke-width="0.7"/>
<line x1="505.38" y1="22.0" x2="505.38" y2="20.0" stroke="#111" stroke-width="0.7"/>
<line x1="516.31" y1="22.0" x2="516.31" y2="20.0" stroke="#111" stroke-width="0.7"/>
<rect x="324.60" y="71.00" width="9.05" height="10.60" fill="#60c5ad" stroke="#111" stroke-width="0.85"/>
<rect x="335.55" y="71.00" width="9.05" height="10.30" fill="#60c5ad" stroke="#111" stroke-width="0.85"/>
<rect x="346.50" y="71.00" width="9.05" height="10.70" fill="#60c5ad" stroke="#111" stroke-width="0.85"/>
<rect x="357.45" y="67.80" width="9.05" height="3.20" fill="#60c5ad" stroke="#111" stroke-width="0.85"/>
<rect x="368.40" y="67.70" width="9.05" height="3.30" fill="#60c5ad" stroke="#111" stroke-width="0.85"/>
<rect x="379.35" y="67.20" width="9.05" height="3.80" fill="#60c5ad" stroke="#111" stroke-width="0.85"/>
<rect x="390.30" y="71.00" width="9.05" height="9.50" fill="#60c5ad" stroke="#111" stroke-width="0.85"/>
<rect x="401.25" y="71.00" width="9.05" height="9.30" fill="#60c5ad" stroke="#111" stroke-width="0.85"/>
<rect x="412.20" y="71.00" width="9.05" height="9.40" fill="#60c5ad" stroke="#111" stroke-width="0.85"/>
<rect x="423.15" y="56.70" width="9.05" height="14.30" fill="#60c5ad" stroke="#111" stroke-width="0.85"/>
<rect x="434.10" y="56.00" width="9.05" height="15.00" fill="#60c5ad" stroke="#111" stroke-width="0.85"/>
<rect x="445.05" y="54.90" width="9.05" height="16.10" fill="#60c5ad" stroke="#111" stroke-width="0.85"/>
<rect x="456.00" y="71.00" width="9.05" height="7.90" fill="#60c5ad" stroke="#111" stroke-width="0.85"/>
<rect x="466.95" y="71.00" width="9.05" height="8.00" fill="#60c5ad" stroke="#111" stroke-width="0.85"/>
<rect x="477.90" y="71.00" width="9.05" height="8.20" fill="#60c5ad" stroke="#111" stroke-width="0.85"/>
<rect x="488.85" y="62.60" width="9.05" height="8.40" fill="#60c5ad" stroke="#111" stroke-width="0.85"/>
<rect x="499.80" y="63.20" width="9.05" height="7.80" fill="#60c5ad" stroke="#111" stroke-width="0.85"/>
<rect x="510.75" y="61.50" width="9.05" height="9.50" fill="#60c5ad" stroke="#111" stroke-width="0.85"/>
<line x1="317.7" y1="58.2" x2="317.7" y2="79.8" stroke="#111" stroke-width="0.45"/>
<g font-size="2.7" fill="#111" text-anchor="middle">
<line x1="316.5" y1="58.40" x2="317.7" y2="58.40" stroke="#111" stroke-width="0.4"/>
<line x1="316.5" y1="61.43" x2="317.7" y2="61.43" stroke="#111" stroke-width="0.4"/>
<line x1="316.5" y1="64.46" x2="317.7" y2="64.46" stroke="#111" stroke-width="0.4"/>
<line x1="316.5" y1="67.49" x2="317.7" y2="67.49" stroke="#111" stroke-width="0.4"/>
<line x1="316.5" y1="70.52" x2="317.7" y2="70.52" stroke="#111" stroke-width="0.4"/>
<line x1="316.5" y1="73.55" x2="317.7" y2="73.55" stroke="#111" stroke-width="0.4"/>
<line x1="316.5" y1="76.58" x2="317.7" y2="76.58" stroke="#111" stroke-width="0.4"/>
<line x1="316.5" y1="79.61" x2="317.7" y2="79.61" stroke="#111" stroke-width="0.4"/>
<text transform="translate(314.6,61.5) rotate(-90)">0.2</text>
<text transform="translate(314.6,69.8) rotate(-90)">0.0</text>
<text transform="translate(314.6,78.3) rotate(-90)">-0.2</text>
</g>
<g font-size="3.7" fill="#111" text-anchor="middle" stroke="#111" stroke-width="0.07">
<text x="340.12" y="88.1">ZR-CK</text>
<text x="372.97" y="88.1">ZR-LT</text>
<text x="405.82" y="88.1">FSD-CK</text>
<text x="438.67" y="88.1">FSD-LT</text>
<text x="471.52" y="88.1">XHBF-CK</text>
<text x="504.37" y="88.1">XHBF-LT</text>
<text x="423.9" y="93.7" font-size="3.85">array sample</text>
</g>
</g>
<g id="pc">
<text x="291.2" y="116.1" font-size="7.8" fill="#222" stroke="#222" stroke-width="0.12">(c)</text>
<rect x="409.5" y="113.8" width="109.5" height="140.9" fill="#fff" stroke="#4d4d4d" stroke-width="0.78"/>
<g font-size="5.17" text-anchor="end">
<text x="405.9" y="119.55" fill="#1a1a1a" stroke="#1a1a1a" stroke-width="0.09">Metabolic pathways</text>
<line x1="407.2" y1="118.10" x2="409.5" y2="118.10" stroke="#222" stroke-width="0.7"/>
<circle cx="414.3" cy="118.10" r="2.88" fill="#e0301e"/>
<text x="405.9" y="126.53" fill="#1a1a1a" stroke="#1a1a1a" stroke-width="0.09">Biosynthesis of secondary metabolites</text>
<line x1="407.2" y1="125.08" x2="409.5" y2="125.08" stroke="#222" stroke-width="0.7"/>
<circle cx="416.3" cy="125.08" r="2.48" fill="#e0301e"/>
<text x="405.9" y="133.51" fill="#1a1a1a" stroke="#1a1a1a" stroke-width="0.09">Autophagy-other</text>
<line x1="407.2" y1="132.06" x2="409.5" y2="132.06" stroke="#222" stroke-width="0.7"/>
<circle cx="514.1" cy="132.06" r="1.08" fill="#e0301e"/>
<text x="405.9" y="140.49" fill="#e2572e" stroke="#e2572e" stroke-width="0.09">Phenylpropanoid biosynthesis</text>
<line x1="407.2" y1="139.04" x2="409.5" y2="139.04" stroke="#222" stroke-width="0.7"/>
<circle cx="438.1" cy="139.04" r="1.58" fill="#e0301e"/>
<text x="405.9" y="147.47" fill="#1a1a1a" stroke="#1a1a1a" stroke-width="0.09">Proteasome</text>
<line x1="407.2" y1="146.02" x2="409.5" y2="146.02" stroke="#222" stroke-width="0.7"/>
<circle cx="457.6" cy="146.02" r="1.38" fill="#e0301e"/>
<text x="405.9" y="154.45" fill="#e2572e" stroke="#e2572e" stroke-width="0.09">Phenylalanine metabolism</text>
<line x1="407.2" y1="153.00" x2="409.5" y2="153.00" stroke="#222" stroke-width="0.7"/>
<circle cx="461.1" cy="153.00" r="1.28" fill="#e0301e"/>
<text x="405.9" y="161.43" fill="#1a1a1a" stroke="#1a1a1a" stroke-width="0.09">Galactose metabolism</text>
<line x1="407.2" y1="159.98" x2="409.5" y2="159.98" stroke="#222" stroke-width="0.7"/>
<circle cx="440.0" cy="159.98" r="1.48" fill="#e0301e"/>
<text x="405.9" y="168.41" fill="#1a1a1a" stroke="#1a1a1a" stroke-width="0.09">Arginine and proline metabolism</text>
<line x1="407.2" y1="166.96" x2="409.5" y2="166.96" stroke="#222" stroke-width="0.7"/>
<circle cx="462.1" cy="166.96" r="1.28" fill="#e0301e"/>
<text x="405.9" y="175.39" fill="#1a1a1a" stroke="#1a1a1a" stroke-width="0.09">Pyrimidine metabolism</text>
<line x1="407.2" y1="173.94" x2="409.5" y2="173.94" stroke="#222" stroke-width="0.7"/>
<circle cx="454.0" cy="173.94" r="1.28" fill="#e0301e"/>
<text x="405.9" y="182.37" fill="#1a1a1a" stroke="#1a1a1a" stroke-width="0.09">beta-Alanine metabolism</text>
<line x1="407.2" y1="180.92" x2="409.5" y2="180.92" stroke="#222" stroke-width="0.7"/>
<circle cx="459.1" cy="180.92" r="1.28" fill="#e0301e"/>
<text x="405.9" y="189.35" fill="#e2572e" stroke="#e2572e" stroke-width="0.09">Flavonoid biosynthesis</text>
<line x1="407.2" y1="187.90" x2="409.5" y2="187.90" stroke="#222" stroke-width="0.7"/>
<circle cx="442.9" cy="187.90" r="1.38" fill="#e0301e"/>
<text x="405.9" y="196.33" fill="#1a1a1a" stroke="#1a1a1a" stroke-width="0.09">Glycerolipid metabolism</text>
<line x1="407.2" y1="194.88" x2="409.5" y2="194.88" stroke="#222" stroke-width="0.7"/>
<circle cx="437.5" cy="194.88" r="1.48" fill="#e0301e"/>
<text x="405.9" y="203.31" fill="#1a1a1a" stroke="#1a1a1a" stroke-width="0.09">Nicotinate and nicotinamide metabolism</text>
<line x1="407.2" y1="201.86" x2="409.5" y2="201.86" stroke="#222" stroke-width="0.7"/>
<circle cx="478.5" cy="201.86" r="1.13" fill="#e0301e"/>
<text x="405.9" y="210.29" fill="#1a1a1a" stroke="#1a1a1a" stroke-width="0.09">Carotenoid biosynthesis</text>
<line x1="407.2" y1="208.84" x2="409.5" y2="208.84" stroke="#222" stroke-width="0.7"/>
<circle cx="457.9" cy="208.84" r="1.28" fill="#e0301e"/>
<text x="405.9" y="217.27" fill="#1a1a1a" stroke="#1a1a1a" stroke-width="0.09">Ubiquinone and other terpenoid-quinone biosynthesis</text>
<line x1="407.2" y1="215.82" x2="409.5" y2="215.82" stroke="#222" stroke-width="0.7"/>
<circle cx="455.9" cy="215.82" r="1.28" fill="#e0301e"/>
<text x="405.9" y="224.25" fill="#1a1a1a" stroke="#1a1a1a" stroke-width="0.09">Valine, leucine and isoleucine degradation</text>
<line x1="407.2" y1="222.80" x2="409.5" y2="222.80" stroke="#222" stroke-width="0.7"/>
<circle cx="446.3" cy="222.80" r="1.28" fill="#e0301e"/>
<text x="405.9" y="231.23" fill="#1a1a1a" stroke="#1a1a1a" stroke-width="0.09">Tropane, piperidine and pyridine alkaloid biosynthesis</text>
<line x1="407.2" y1="229.78" x2="409.5" y2="229.78" stroke="#222" stroke-width="0.7"/>
<circle cx="454.8" cy="229.78" r="1.18" fill="#e0301e"/>
<text x="405.9" y="238.21" fill="#e2572e" stroke="#e2572e" stroke-width="0.09">Anthocyanin biosynthesis</text>
<line x1="407.2" y1="236.76" x2="409.5" y2="236.76" stroke="#222" stroke-width="0.7"/>
<circle cx="509.8" cy="236.76" r="0.98" fill="#ee5a3a"/>
<text x="405.9" y="245.19" fill="#1a1a1a" stroke="#1a1a1a" stroke-width="0.09">Amino sugar and nucleotide sugar metabolism</text>
<line x1="407.2" y1="243.74" x2="409.5" y2="243.74" stroke="#222" stroke-width="0.7"/>
<circle cx="425.2" cy="243.74" r="1.53" fill="#ea4a22"/>
<text x="405.9" y="252.17" fill="#1a1a1a" stroke="#1a1a1a" stroke-width="0.09">Porphyrin metabolism</text>
<line x1="407.2" y1="250.72" x2="409.5" y2="250.72" stroke="#222" stroke-width="0.7"/>
<circle cx="448.7" cy="250.72" r="1.13" fill="#6cb52d"/>
</g>
<g font-size="4.6" text-anchor="middle" fill="#444">
<line x1="410.3" y1="254.7" x2="410.3" y2="256.5" stroke="#222" stroke-width="0.8"/>
<text x="410.3" y="260.3">0.04</text>
<line x1="445.7" y1="254.7" x2="445.7" y2="256.5" stroke="#222" stroke-width="0.8"/>
<text x="445.7" y="260.3">0.08</text>
<line x1="481.1" y1="254.7" x2="481.1" y2="256.5" stroke="#222" stroke-width="0.8"/>
<text x="481.1" y="260.3">0.12</text>
<line x1="516.5" y1="254.7" x2="516.5" y2="256.5" stroke="#222" stroke-width="0.8"/>
<text x="516.5" y="260.3">0.16</text>
</g>
<text x="465.6" y="268.8" font-size="6.05" text-anchor="middle" fill="#1a1a1a">Rich Factor</text>
<text x="525.2" y="146.8" font-size="6.1" fill="#111">Q-value</text>
<defs><linearGradient id="qv" x1="0" y1="0" x2="0" y2="1"><stop offset="0" stop-color="#8f5bb8"/><stop offset="0.12" stop-color="#7b72d0"/><stop offset="0.27" stop-color="#4fb4d8"/><stop offset="0.42" stop-color="#4dbb8a"/><stop offset="0.55" stop-color="#6cb52d"/><stop offset="0.7" stop-color="#b9a236"/><stop offset="0.85" stop-color="#ea6a3c"/><stop offset="1" stop-color="#e8301e"/></linearGradient></defs>
<rect x="525.3" y="150.8" width="7.0" height="32.7" fill="url(#qv)"/>
<g font-size="5.1" fill="#222">
<text x="535.0" y="153.3">1.00</text>
<text x="535.0" y="161.1">0.75</text>
<text x="535.0" y="168.9">0.50</text>
<text x="535.0" y="176.9">0.25</text>
<text x="535.0" y="184.2">0.00</text>
</g>
<text x="525.2" y="197.1" font-size="6.1" fill="#111">Count</text>
<g font-size="5.1" fill="#222">
<circle cx="528.5" cy="204.3" r="1.5" fill="#111"/>
<text x="535.1" y="206.1">100</text>
<circle cx="528.5" cy="210.9" r="2.0" fill="#111"/>
<text x="535.1" y="212.7">200</text>
<circle cx="528.5" cy="217.3" r="2.4" fill="#111"/>
<text x="535.1" y="219.1">300</text>
<circle cx="528.5" cy="224.2" r="2.75" fill="#111"/>
<text x="535.1" y="226.0">400</text>
</g>
</g>
<g id="pd">
<text x="33.1" y="305.9" font-size="7.8" fill="#222" stroke="#222" stroke-width="0.12">(d)</text>
<path d="M275.6 625.0L241.1 617.1M275.6 625.0L208.4 606.0M275.6 625.0L178.8 588.2M275.6 625.0L153.7 564.5M275.6 625.0L134.3 535.9M275.6 625.0L121.5 503.8M275.6 625.0L115.9 469.7M275.6 625.0L117.8 435.1M275.6 625.0L127.0 401.9M275.6 625.0L143.2 371.3M275.6 625.0L165.6 345.0M275.6 625.0L193.1 324.1M275.6 625.0L224.5 309.6M275.6 625.0L258.2 302.1M275.6 625.0L310.8 614.5M275.6 625.0L342.6 606.0M275.6 625.0L372.2 588.2M275.6 625.0L397.3 564.5M275.6 625.0L416.7 535.9M275.6 625.0L429.5 503.8M275.6 625.0L435.1 469.7M275.6 625.0L433.2 435.1M275.6 625.0L424.0 401.9M275.6 625.0L407.8 371.3M275.6 625.0L385.4 345.0M275.6 625.0L357.9 324.1M275.6 625.0L326.5 309.6M275.6 625.0L292.8 302.1M275.6 625.0L275.5 349.3M275.6 625.0L304.8 353.2M275.6 625.0L332.1 364.5M275.6 625.0L355.5 382.5M275.6 625.0L373.5 405.9M275.6 625.0L384.8 433.2M275.6 625.0L388.7 462.5M275.6 625.0L384.8 491.8M275.6 625.0L373.5 519.1M275.6 625.0L355.5 542.5M275.6 625.0L332.1 560.5M275.6 625.0L304.8 571.8M275.6 625.0L275.0 581.8M275.6 625.0L246.2 571.8M275.6 625.0L218.9 560.5M275.6 625.0L195.5 542.5M275.6 625.0L177.5 519.1M275.6 625.0L166.2 491.8M275.6 625.0L162.3 462.5M275.6 625.0L166.2 433.2M275.6 625.0L177.5 405.9M275.6 625.0L195.5 382.5M275.6 625.0L218.9 364.5M275.6 625.0L246.2 353.2M275.6 625.0L245.9 406.8M275.6 625.0L307.9 406.8M275.6 625.0L225.0 433.6M275.6 625.0L329.4 433.6M275.6 625.0L217.4 473.4M275.6 625.0L337.0 473.4M275.6 625.0L238.6 509.2M275.6 625.0L315.1 509.2M275.6 625.0L277.3 523.8M241.1 617.1L208.4 606.0M241.1 617.1L178.8 588.2M241.1 617.1L153.7 564.5M241.1 617.1L134.3 535.9M241.1 617.1L121.5 503.8M241.1 617.1L115.9 469.7M241.1 617.1L117.8 435.1M241.1 617.1L127.0 401.9M241.1 617.1L143.2 371.3M241.1 617.1L165.6 345.0M241.1 617.1L193.1 324.1M241.1 617.1L224.5 309.6M241.1 617.1L258.2 302.1M241.1 617.1L310.8 614.5M241.1 617.1L342.6 606.0M241.1 617.1L372.2 588.2M241.1 617.1L397.3 564.5M241.1 617.1L416.7 535.9M241.1 617.1L429.5 503.8M241.1 617.1L435.1 469.7M241.1 617.1L433.2 435.1M241.1 617.1L424.0 401.9M241.1 617.1L407.8 371.3M241.1 617.1L385.4 345.0M241.1 617.1L357.9 324.1M241.1 617.1L326.5 309.6M241.1 617.1L292.8 302.1M241.1 617.1L275.5 349.3M241.1 617.1L304.8 353.2M241.1 617.1L332.1 364.5M241.1 617.1L355.5 382.5M241.1 617.1L373.5 405.9M241.1 617.1L384.8 433.2M241.1 617.1L388.7 462.5M241.1 617.1L384.8 491.8M241.1 617.1L373.5 519.1M241.1 617.1L355.5 542.5M241.1 617.1L332.1 560.5M241.1 617.1L304.8 571.8M241.1 617.1L275.0 581.8M241.1 617.1L246.2 571.8M241.1 617.1L218.9 560.5M241.1 617.1L195.5 542.5M241.1 617.1L177.5 519.1M241.1 617.1L166.2 491.8M241.1 617.1L162.3 462.5M241.1 617.1L166.2 433.2M241.1 617.1L177.5 405.9M241.1 617.1L195.5 382.5M241.1 617.1L218.9 364.5M241.1 617.1L246.2 353.2M241.1 617.1L245.9 406.8M241.1 617.1L307.9 406.8M241.1 617.1L225.0 433.6M241.1 617.1L329.4 433.6M241.1 617.1L217.4 473.4M241.1 617.1L337.0 473.4M241.1 617.1L238.6 509.2M241.1 617.1L315.1 509.2M241.1 617.1L277.3 523.8M208.4 606.0L178.8 588.2M208.4 606.0L153.7 564.5M208.4 606.0L134.3 535.9M208.4 606.0L121.5 503.8M208.4 606.0L115.9 469.7M208.4 606.0L117.8 435.1M208.4 606.0L127.0 401.9M208.4 606.0L143.2 371.3M208.4 606.0L165.6 345.0M208.4 606.0L193.1 324.1M208.4 606.0L224.5 309.6M208.4 606.0L258.2 302.1M208.4 606.0L310.8 614.5M208.4 606.0L342.6 606.0M208.4 606.0L372.2 588.2M208.4 606.0L397.3 564.5M208.4 606.0L416.7 535.9M208.4 606.0L429.5 503.8M208.4 606.0L435.1 469.7M208.4 606.0L433.2 435.1M208.4 606.0L424.0 401.9M208.4 606.0L407.8 371.3M208.4 606.0L385.4 345.0M208.4 606.0L357.9 324.1M208.4 606.0L326.5 309.6M208.4 606.0L292.8 302.1M208.4 606.0L275.5 349.3M208.4 606.0L304.8 353.2M208.4 606.0L332.1 364.5M208.4 606.0L355.5 382.5M208.4 606.0L373.5 405.9M208.4 606.0L384.8 433.2M208.4 606.0L388.7 462.5M208.4 606.0L384.8 491.8M208.4 606.0L373.5 519.1M208.4 606.0L355.5 542.5M208.4 606.0L332.1 560.5M208.4 606.0L304.8 571.8M208.4 606.0L275.0 581.8M208.4 606.0L246.2 571.8M208.4 606.0L218.9 560.5M208.4 606.0L195.5 542.5M208.4 606.0L177.5 519.1M208.4 606.0L166.2 491.8M208.4 606.0L162.3 462.5M208.4 606.0L166.2 433.2M208.4 606.0L177.5 405.9M208.4 606.0L195.5 382.5M208.4 606.0L218.9 364.5M208.4 606.0L246.2 353.2M208.4 606.0L245.9 406.8M208.4 606.0L307.9 406.8M208.4 606.0L225.0 433.6M208.4 606.0L329.4 433.6M208.4 606.0L217.4 473.4M208.4 606.0L337.0 473.4M208.4 606.0L238.6 509.2M208.4 606.0L315.1 509.2M208.4 606.0L277.3 523.8M178.8 588.2L153.7 564.5M178.8 588.2L134.3 535.9M178.8 588.2L121.5 503.8M178.8 588.2L115.9 469.7M178.8 588.2L117.8 435.1M178.8 588.2L127.0 401.9M178.8 588.2L143.2 371.3M178.8 588.2L165.6 345.0M178.8 588.2L193.1 324.1M178.8 588.2L224.5 309.6M178.8 588.2L258.2 302.1M178.8 588.2L310.8 614.5M178.8 588.2L342.6 606.0M178.8 588.2L372.2 588.2M178.8 588.2L397.3 564.5M178.8 588.2L416.7 535.9M178.8 588.2L429.5 503.8M178.8 588.2L435.1 469.7M178.8 588.2L433.2 435.1M178.8 588.2L424.0 401.9M178.8 588.2L407.8 371.3M178.8 588.2L385.4 345.0M178.8 588.2L357.9 324.1M178.8 588.2L326.5 309.6M178.8 588.2L292.8 302.1M178.8 588.2L275.5 349.3M178.8 588.2L304.8 353.2M178.8 588.2L332.1 364.5M178.8 588.2L355.5 382.5M178.8 588.2L373.5 405.9M178.8 588.2L384.8 433.2M178.8 588.2L388.7 462.5M178.8 588.2L384.8 491.8M178.8 588.2L373.5 519.1M178.8 588.2L355.5 542.5M178.8 588.2L332.1 560.5M178.8 588.2L304.8 571.8M178.8 588.2L275.0 581.8M178.8 588.2L246.2 571.8M178.8 588.2L218.9 560.5M178.8 588.2L195.5 542.5M178.8 588.2L177.5 519.1M178.8 588.2L166.2 491.8M178.8 588.2L162.3 462.5M178.8 588.2L166.2 433.2M178.8 588.2L177.5 405.9M178.8 588.2L195.5 382.5M178.8 588.2L218.9 364.5M178.8 588.2L246.2 353.2M178.8 588.2L245.9 406.8M178.8 588.2L307.9 406.8M178.8 588.2L225.0 433.6M178.8 588.2L329.4 433.6M178.8 588.2L217.4 473.4M178.8 588.2L337.0 473.4M178.8 588.2L238.6 509.2M178.8 588.2L315.1 509.2M178.8 588.2L277.3 523.8M153.7 564.5L134.3 535.9M153.7 564.5L121.5 503.8M153.7 564.5L115.9 469.7M153.7 564.5L117.8 435.1M153.7 564.5L127.0 401.9M153.7 564.5L143.2 371.3M153.7 564.5L165.6 345.0M153.7 564.5L193.1 324.1M153.7 564.5L224.5 309.6M153.7 564.5L258.2 302.1M153.7 564.5L310.8 614.5M153.7 564.5L342.6 606.0M153.7 564.5L372.2 588.2M153.7 564.5L397.3 564.5M153.7 564.5L416.7 535.9M153.7 564.5L429.5 503.8M153.7 564.5L435.1 469.7M153.7 564.5L433.2 435.1M153.7 564.5L424.0 401.9M153.7 564.5L407.8 371.3M153.7 564.5L385.4 345.0M153.7 564.5L357.9 324.1M153.7 564.5L326.5 309.6M153.7 564.5L292.8 302.1M153.7 564.5L275.5 349.3M153.7 564.5L304.8 353.2M153.7 564.5L332.1 364.5M153.7 564.5L355.5 382.5M153.7 564.5L373.5 405.9M153.7 564.5L384.8 433.2M153.7 564.5L388.7 462.5M153.7 564.5L384.8 491.8M153.7 564.5L373.5 519.1M153.7 564.5L355.5 542.5M153.7 564.5L332.1 560.5M153.7 564.5L304.8 571.8M153.7 564.5L275.0 581.8M153.7 564.5L246.2 571.8M153.7 564.5L218.9 560.5M153.7 564.5L195.5 542.5M153.7 564.5L177.5 519.1M153.7 564.5L166.2 491.8M153.7 564.5L162.3 462.5M153.7 564.5L166.2 433.2M153.7 564.5L177.5 405.9M153.7 564.5L195.5 382.5M153.7 564.5L218.9 364.5M153.7 564.5L246.2 353.2M153.7 564.5L245.9 406.8M153.7 564.5L307.9 406.8M153.7 564.5L225.0 433.6M153.7 564.5L329.4 433.6M153.7 564.5L217.4 473.4M153.7 564.5L337.0 473.4M153.7 564.5L238.6 509.2M153.7 564.5L315.1 509.2M153.7 564.5L277.3 523.8M134.3 535.9L121.5 503.8M134.3 535.9L115.9 469.7M134.3 535.9L117.8 435.1M134.3 535.9L127.0 401.9M134.3 535.9L143.2 371.3M134.3 535.9L165.6 345.0M134.3 535.9L193.1 324.1M134.3 535.9L224.5 309.6M134.3 535.9L258.2 302.1M134.3 535.9L310.8 614.5M134.3 535.9L342.6 606.0M134.3 535.9L372.2 588.2M134.3 535.9L397.3 564.5M134.3 535.9L416.7 535.9M134.3 535.9L429.5 503.8M134.3 535.9L435.1 469.7M134.3 535.9L433.2 435.1M134.3 535.9L424.0 401.9M134.3 535.9L407.8 371.3M134.3 535.9L385.4 345.0M134.3 535.9L357.9 324.1M134.3 535.9L326.5 309.6M134.3 535.9L292.8 302.1M134.3 535.9L275.5 349.3M134.3 535.9L304.8 353.2M134.3 535.9L332.1 364.5M134.3 535.9L355.5 382.5M134.3 535.9L373.5 405.9M134.3 535.9L384.8 433.2M134.3 535.9L388.7 462.5M134.3 535.9L384.8 491.8M134.3 535.9L373.5 519.1M134.3 535.9L355.5 542.5M134.3 535.9L332.1 560.5M134.3 535.9L304.8 571.8M134.3 535.9L275.0 581.8M134.3 535.9L246.2 571.8M134.3 535.9L218.9 560.5M134.3 535.9L195.5 542.5M134.3 535.9L177.5 519.1M134.3 535.9L166.2 491.8M134.3 535.9L162.3 462.5M134.3 535.9L166.2 433.2M134.3 535.9L177.5 405.9M134.3 535.9L195.5 382.5M134.3 535.9L218.9 364.5M134.3 535.9L246.2 353.2M134.3 535.9L245.9 406.8M134.3 535.9L307.9 406.8M134.3 535.9L225.0 433.6M134.3 535.9L329.4 433.6M134.3 535.9L217.4 473.4M134.3 535.9L337.0 473.4M134.3 535.9L238.6 509.2M134.3 535.9L315.1 509.2M134.3 535.9L277.3 523.8M121.5 503.8L115.9 469.7M121.5 503.8L117.8 435.1M121.5 503.8L127.0 401.9M121.5 503.8L143.2 371.3M121.5 503.8L165.6 345.0M121.5 503.8L193.1 324.1M121.5 503.8L224.5 309.6M121.5 503.8L258.2 302.1M121.5 503.8L310.8 614.5M121.5 503.8L342.6 606.0M121.5 503.8L372.2 588.2M121.5 503.8L397.3 564.5M121.5 503.8L416.7 535.9M121.5 503.8L429.5 503.8M121.5 503.8L435.1 469.7M121.5 503.8L433.2 435.1M121.5 503.8L424.0 401.9M121.5 503.8L407.8 371.3M121.5 503.8L385.4 345.0M121.5 503.8L357.9 324.1M121.5 503.8L326.5 309.6M121.5 503.8L292.8 302.1M121.5 503.8L275.5 349.3M121.5 503.8L304.8 353.2M121.5 503.8L332.1 364.5M121.5 503.8L355.5 382.5M121.5 503.8L373.5 405.9M121.5 503.8L384.8 433.2M121.5 503.8L388.7 462.5M121.5 503.8L384.8 491.8M121.5 503.8L373.5 519.1M121.5 503.8L355.5 542.5M121.5 503.8L332.1 560.5M121.5 503.8L304.8 571.8M121.5 503.8L275.0 581.8M121.5 503.8L246.2 571.8M121.5 503.8L218.9 560.5M121.5 503.8L195.5 542.5M121.5 503.8L177.5 519.1M121.5 503.8L166.2 491.8M121.5 503.8L162.3 462.5M121.5 503.8L166.2 433.2M121.5 503.8L177.5 405.9M121.5 503.8L195.5 382.5M121.5 503.8L218.9 364.5M121.5 503.8L246.2 353.2M121.5 503.8L245.9 406.8M121.5 503.8L307.9 406.8M121.5 503.8L225.0 433.6M121.5 503.8L329.4 433.6M121.5 503.8L217.4 473.4M121.5 503.8L337.0 473.4M121.5 503.8L238.6 509.2M121.5 503.8L315.1 509.2M121.5 503.8L277.3 523.8M115.9 469.7L117.8 435.1M115.9 469.7L127.0 401.9M115.9 469.7L143.2 371.3M115.9 469.7L165.6 345.0M115.9 469.7L193.1 324.1M115.9 469.7L224.5 309.6M115.9 469.7L258.2 302.1M115.9 469.7L310.8 614.5M115.9 469.7L342.6 606.0M115.9 469.7L372.2 588.2M115.9 469.7L397.3 564.5M115.9 469.7L416.7 535.9M115.9 469.7L429.5 503.8M115.9 469.7L435.1 469.7M115.9 469.7L433.2 435.1M115.9 469.7L424.0 401.9M115.9 469.7L407.8 371.3M115.9 469.7L385.4 345.0M115.9 469.7L357.9 324.1M115.9 469.7L326.5 309.6M115.9 469.7L292.8 302.1M115.9 469.7L275.5 349.3M115.9 469.7L304.8 353.2M115.9 469.7L332.1 364.5M115.9 469.7L355.5 382.5M115.9 469.7L373.5 405.9M115.9 469.7L384.8 433.2M115.9 469.7L388.7 462.5M115.9 469.7L384.8 491.8M115.9 469.7L373.5 519.1M115.9 469.7L355.5 542.5M115.9 469.7L332.1 560.5M115.9 469.7L304.8 571.8M115.9 469.7L275.0 581.8M115.9 469.7L246.2 571.8M115.9 469.7L218.9 560.5M115.9 469.7L195.5 542.5M115.9 469.7L177.5 519.1M115.9 469.7L166.2 491.8M115.9 469.7L162.3 462.5M115.9 469.7L166.2 433.2M115.9 469.7L177.5 405.9M115.9 469.7L195.5 382.5M115.9 469.7L218.9 364.5M115.9 469.7L246.2 353.2M115.9 469.7L245.9 406.8M115.9 469.7L307.9 406.8M115.9 469.7L225.0 433.6M115.9 469.7L329.4 433.6M115.9 469.7L217.4 473.4M115.9 469.7L337.0 473.4M115.9 469.7L238.6 509.2M115.9 469.7L315.1 509.2M115.9 469.7L277.3 523.8M117.8 435.1L127.0 401.9M117.8 435.1L143.2 371.3M117.8 435.1L165.6 345.0M117.8 435.1L193.1 324.1M117.8 435.1L224.5 309.6M117.8 435.1L258.2 302.1M117.8 435.1L310.8 614.5M117.8 435.1L342.6 606.0M117.8 435.1L372.2 588.2M117.8 435.1L397.3 564.5M117.8 435.1L416.7 535.9M117.8 435.1L429.5 503.8M117.8 435.1L435.1 469.7M117.8 435.1L433.2 435.1M117.8 435.1L424.0 401.9M117.8 435.1L407.8 371.3M117.8 435.1L385.4 345.0M117.8 435.1L357.9 324.1M117.8 435.1L326.5 309.6M117.8 435.1L292.8 302.1M117.8 435.1L275.5 349.3M117.8 435.1L304.8 353.2M117.8 435.1L332.1 364.5M117.8 435.1L355.5 382.5M117.8 435.1L373.5 405.9M117.8 435.1L384.8 433.2M117.8 435.1L388.7 462.5M117.8 435.1L384.8 491.8M117.8 435.1L373.5 519.1M117.8 435.1L355.5 542.5M117.8 435.1L332.1 560.5M117.8 435.1L304.8 571.8M117.8 435.1L275.0 581.8M117.8 435.1L246.2 571.8M117.8 435.1L218.9 560.5M117.8 435.1L195.5 542.5M117.8 435.1L177.5 519.1M117.8 435.1L166.2 491.8M117.8 435.1L162.3 462.5M117.8 435.1L166.2 433.2M117.8 435.1L177.5 405.9M117.8 435.1L195.5 382.5M117.8 435.1L218.9 364.5M117.8 435.1L246.2 353.2M117.8 435.1L245.9 406.8M117.8 435.1L307.9 406.8M117.8 435.1L225.0 433.6M117.8 435.1L329.4 433.6M117.8 435.1L217.4 473.4M117.8 435.1L337.0 473.4M117.8 435.1L238.6 509.2M117.8 435.1L315.1 509.2M117.8 435.1L277.3 523.8M127.0 401.9L143.2 371.3M127.0 401.9L165.6 345.0M127.0 401.9L193.1 324.1M127.0 401.9L224.5 309.6M127.0 401.9L258.2 302.1M127.0 401.9L310.8 614.5M127.0 401.9L342.6 606.0M127.0 401.9L372.2 588.2M127.0 401.9L397.3 564.5M127.0 401.9L416.7 535.9M127.0 401.9L429.5 503.8M127.0 401.9L435.1 469.7M127.0 401.9L433.2 435.1M127.0 401.9L424.0 401.9M127.0 401.9L407.8 371.3M127.0 401.9L385.4 345.0M127.0 401.9L357.9 324.1M127.0 401.9L326.5 309.6M127.0 401.9L292.8 302.1M127.0 401.9L275.5 349.3M127.0 401.9L304.8 353.2M127.0 401.9L332.1 364.5M127.0 401.9L355.5 382.5M127.0 401.9L373.5 405.9M127.0 401.9L384.8 433.2M127.0 401.9L388.7 462.5M127.0 401.9L384.8 491.8M127.0 401.9L373.5 519.1M127.0 401.9L355.5 542.5M127.0 401.9L332.1 560.5M127.0 401.9L304.8 571.8M127.0 401.9L275.0 581.8M127.0 401.9L246.2 571.8M127.0 401.9L218.9 560.5M127.0 401.9L195.5 542.5M127.0 401.9L177.5 519.1M127.0 401.9L166.2 491.8M127.0 401.9L162.3 462.5M127.0 401.9L166.2 433.2M127.0 401.9L177.5 405.9M127.0 401.9L195.5 382.5M127.0 401.9L218.9 364.5M127.0 401.9L246.2 353.2M127.0 401.9L245.9 406.8M127.0 401.9L307.9 406.8M127.0 401.9L225.0 433.6M127.0 401.9L329.4 433.6M127.0 401.9L217.4 473.4M127.0 401.9L337.0 473.4M127.0 401.9L238.6 509.2M127.0 401.9L315.1 509.2M127.0 401.9L277.3 523.8M143.2 371.3L165.6 345.0M143.2 371.3L193.1 324.1M143.2 371.3L224.5 309.6M143.2 371.3L258.2 302.1M143.2 371.3L310.8 614.5M143.2 371.3L342.6 606.0M143.2 371.3L372.2 588.2M143.2 371.3L397.3 564.5M143.2 371.3L416.7 535.9M143.2 371.3L429.5 503.8M143.2 371.3L435.1 469.7M143.2 371.3L433.2 435.1M143.2 371.3L424.0 401.9M143.2 371.3L407.8 371.3M143.2 371.3L385.4 345.0M143.2 371.3L357.9 324.1M143.2 371.3L326.5 309.6M143.2 371.3L292.8 302.1M143.2 371.3L275.5 349.3M143.2 371.3L304.8 353.2M143.2 371.3L332.1 364.5M143.2 371.3L355.5 382.5M143.2 371.3L373.5 405.9M143.2 371.3L384.8 433.2M143.2 371.3L388.7 462.5M143.2 371.3L384.8 491.8M143.2 371.3L373.5 519.1M143.2 371.3L355.5 542.5M143.2 371.3L332.1 560.5M143.2 371.3L304.8 571.8M143.2 371.3L275.0 581.8M143.2 371.3L246.2 571.8M143.2 371.3L218.9 560.5M143.2 371.3L195.5 542.5M143.2 371.3L177.5 519.1M143.2 371.3L166.2 491.8M143.2 371.3L162.3 462.5M143.2 371.3L166.2 433.2M143.2 371.3L177.5 405.9M143.2 371.3L195.5 382.5M143.2 371.3L218.9 364.5M143.2 371.3L246.2 353.2M143.2 371.3L245.9 406.8M143.2 371.3L307.9 406.8M143.2 371.3L225.0 433.6M143.2 371.3L329.4 433.6M143.2 371.3L217.4 473.4M143.2 371.3L337.0 473.4M143.2 371.3L238.6 509.2M143.2 371.3L315.1 509.2M143.2 371.3L277.3 523.8M165.6 345.0L193.1 324.1M165.6 345.0L224.5 309.6M165.6 345.0L258.2 302.1M165.6 345.0L310.8 614.5M165.6 345.0L342.6 606.0M165.6 345.0L372.2 588.2M165.6 345.0L397.3 564.5M165.6 345.0L416.7 535.9M165.6 345.0L429.5 503.8M165.6 345.0L435.1 469.7M165.6 345.0L433.2 435.1M165.6 345.0L424.0 401.9M165.6 345.0L407.8 371.3M165.6 345.0L385.4 345.0M165.6 345.0L357.9 324.1M165.6 345.0L326.5 309.6M165.6 345.0L292.8 302.1M165.6 345.0L275.5 349.3M165.6 345.0L304.8 353.2M165.6 345.0L332.1 364.5M165.6 345.0L355.5 382.5M165.6 345.0L373.5 405.9M165.6 345.0L384.8 433.2M165.6 345.0L388.7 462.5M165.6 345.0L384.8 491.8M165.6 345.0L373.5 519.1M165.6 345.0L355.5 542.5M165.6 345.0L332.1 560.5M165.6 345.0L304.8 571.8M165.6 345.0L275.0 581.8M165.6 345.0L246.2 571.8M165.6 345.0L218.9 560.5M165.6 345.0L195.5 542.5M165.6 345.0L177.5 519.1M165.6 345.0L166.2 491.8M165.6 345.0L162.3 462.5M165.6 345.0L166.2 433.2M165.6 345.0L177.5 405.9M165.6 345.0L195.5 382.5M165.6 345.0L218.9 364.5M165.6 345.0L246.2 353.2M165.6 345.0L245.9 406.8M165.6 345.0L307.9 406.8M165.6 345.0L225.0 433.6M165.6 345.0L329.4 433.6M165.6 345.0L217.4 473.4M165.6 345.0L337.0 473.4M165.6 345.0L238.6 509.2M165.6 345.0L315.1 509.2M165.6 345.0L277.3 523.8M193.1 324.1L224.5 309.6M193.1 324.1L258.2 302.1M193.1 324.1L310.8 614.5M193.1 324.1L342.6 606.0M193.1 324.1L372.2 588.2M193.1 324.1L397.3 564.5M193.1 324.1L416.7 535.9M193.1 324.1L429.5 503.8M193.1 324.1L435.1 469.7M193.1 324.1L433.2 435.1M193.1 324.1L424.0 401.9M193.1 324.1L407.8 371.3M193.1 324.1L385.4 345.0M193.1 324.1L357.9 324.1M193.1 324.1L326.5 309.6M193.1 324.1L292.8 302.1M193.1 324.1L275.5 349.3M193.1 324.1L304.8 353.2M193.1 324.1L332.1 364.5M193.1 324.1L355.5 382.5M193.1 324.1L373.5 405.9M193.1 324.1L384.8 433.2M193.1 324.1L388.7 462.5M193.1 324.1L384.8 491.8M193.1 324.1L373.5 519.1M193.1 324.1L355.5 542.5M193.1 324.1L332.1 560.5M193.1 324.1L304.8 571.8M193.1 324.1L275.0 581.8M193.1 324.1L246.2 571.8M193.1 324.1L218.9 560.5M193.1 324.1L195.5 542.5M193.1 324.1L177.5 519.1M193.1 324.1L166.2 491.8M193.1 324.1L162.3 462.5M193.1 324.1L166.2 433.2M193.1 324.1L177.5 405.9M193.1 324.1L195.5 382.5M193.1 324.1L218.9 364.5M193.1 324.1L246.2 353.2M193.1 324.1L245.9 406.8M193.1 324.1L307.9 406.8M193.1 324.1L225.0 433.6M193.1 324.1L329.4 433.6M193.1 324.1L217.4 473.4M193.1 324.1L337.0 473.4M193.1 324.1L238.6 509.2M193.1 324.1L315.1 509.2M193.1 324.1L277.3 523.8M224.5 309.6L258.2 302.1M224.5 309.6L310.8 614.5M224.5 309.6L342.6 606.0M224.5 309.6L372.2 588.2M224.5 309.6L397.3 564.5M224.5 309.6L416.7 535.9M224.5 309.6L429.5 503.8M224.5 309.6L435.1 469.7M224.5 309.6L433.2 435.1M224.5 309.6L424.0 401.9M224.5 309.6L407.8 371.3M224.5 309.6L385.4 345.0M224.5 309.6L357.9 324.1M224.5 309.6L326.5 309.6M224.5 309.6L292.8 302.1M224.5 309.6L275.5 349.3M224.5 309.6L304.8 353.2M224.5 309.6L332.1 364.5M224.5 309.6L355.5 382.5M224.5 309.6L373.5 405.9M224.5 309.6L384.8 433.2M224.5 309.6L388.7 462.5M224.5 309.6L384.8 491.8M224.5 309.6L373.5 519.1M224.5 309.6L355.5 542.5M224.5 309.6L332.1 560.5M224.5 309.6L304.8 571.8M224.5 309.6L275.0 581.8M224.5 309.6L246.2 571.8M224.5 309.6L218.9 560.5M224.5 309.6L195.5 542.5M224.5 309.6L177.5 519.1M224.5 309.6L166.2 491.8M224.5 309.6L162.3 462.5M224.5 309.6L166.2 433.2M224.5 309.6L177.5 405.9M224.5 309.6L195.5 382.5M224.5 309.6L218.9 364.5M224.5 309.6L246.2 353.2M224.5 309.6L245.9 406.8M224.5 309.6L307.9 406.8M224.5 309.6L225.0 433.6M224.5 309.6L329.4 433.6M224.5 309.6L217.4 473.4M224.5 309.6L337.0 473.4M224.5 309.6L238.6 509.2M224.5 309.6L315.1 509.2M224.5 309.6L277.3 523.8M258.2 302.1L310.8 614.5M258.2 302.1L342.6 606.0M258.2 302.1L372.2 588.2M258.2 302.1L397.3 564.5M258.2 302.1L416.7 535.9M258.2 302.1L429.5 503.8M258.2 302.1L435.1 469.7M258.2 302.1L433.2 435.1M258.2 302.1L424.0 401.9M258.2 302.1L407.8 371.3M258.2 302.1L385.4 345.0M258.2 302.1L357.9 324.1M258.2 302.1L326.5 309.6M258.2 302.1L292.8 302.1M258.2 302.1L275.5 349.3M258.2 302.1L304.8 353.2M258.2 302.1L332.1 364.5M258.2 302.1L355.5 382.5M258.2 302.1L373.5 405.9M258.2 302.1L384.8 433.2M258.2 302.1L388.7 462.5M258.2 302.1L384.8 491.8M258.2 302.1L373.5 519.1M258.2 302.1L355.5 542.5M258.2 302.1L332.1 560.5M258.2 302.1L304.8 571.8M258.2 302.1L275.0 581.8M258.2 302.1L246.2 571.8M258.2 302.1L218.9 560.5M258.2 302.1L195.5 542.5M258.2 302.1L177.5 519.1M258.2 302.1L166.2 491.8M258.2 302.1L162.3 462.5M258.2 302.1L166.2 433.2M258.2 302.1L177.5 405.9M258.2 302.1L195.5 382.5M258.2 302.1L218.9 364.5M258.2 302.1L246.2 353.2M258.2 302.1L245.9 406.8M258.2 302.1L307.9 406.8M258.2 302.1L225.0 433.6M258.2 302.1L329.4 433.6M258.2 302.1L217.4 473.4M258.2 302.1L337.0 473.4M258.2 302.1L238.6 509.2M258.2 302.1L315.1 509.2M258.2 302.1L277.3 523.8M310.8 614.5L342.6 606.0M310.8 614.5L372.2 588.2M310.8 614.5L397.3 564.5M310.8 614.5L416.7 535.9M310.8 614.5L429.5 503.8M310.8 614.5L435.1 469.7M310.8 614.5L433.2 435.1M310.8 614.5L424.0 401.9M310.8 614.5L407.8 371.3M310.8 614.5L385.4 345.0M310.8 614.5L357.9 324.1M310.8 614.5L326.5 309.6M310.8 614.5L292.8 302.1M310.8 614.5L275.5 349.3M310.8 614.5L304.8 353.2M310.8 614.5L332.1 364.5M310.8 614.5L355.5 382.5M310.8 614.5L373.5 405.9M310.8 614.5L384.8 433.2M310.8 614.5L388.7 462.5M310.8 614.5L384.8 491.8M310.8 614.5L373.5 519.1M310.8 614.5L355.5 542.5M310.8 614.5L332.1 560.5M310.8 614.5L304.8 571.8M310.8 614.5L275.0 581.8M310.8 614.5L246.2 571.8M310.8 614.5L218.9 560.5M310.8 614.5L195.5 542.5M310.8 614.5L177.5 519.1M310.8 614.5L166.2 491.8M310.8 614.5L162.3 462.5M310.8 614.5L166.2 433.2M310.8 614.5L177.5 405.9M310.8 614.5L195.5 382.5M310.8 614.5L218.9 364.5M310.8 614.5L246.2 353.2M310.8 614.5L245.9 406.8M310.8 614.5L307.9 406.8M310.8 614.5L225.0 433.6M310.8 614.5L329.4 433.6M310.8 614.5L217.4 473.4M310.8 614.5L337.0 473.4M310.8 614.5L238.6 509.2M310.8 614.5L315.1 509.2M310.8 614.5L277.3 523.8M342.6 606.0L372.2 588.2M342.6 606.0L397.3 564.5M342.6 606.0L416.7 535.9M342.6 606.0L429.5 503.8M342.6 606.0L435.1 469.7M342.6 606.0L433.2 435.1M342.6 606.0L424.0 401.9M342.6 606.0L407.8 371.3M342.6 606.0L385.4 345.0M342.6 606.0L357.9 324.1M342.6 606.0L326.5 309.6M342.6 606.0L292.8 302.1M342.6 606.0L275.5 349.3M342.6 606.0L304.8 353.2M342.6 606.0L332.1 364.5M342.6 606.0L355.5 382.5M342.6 606.0L373.5 405.9M342.6 606.0L384.8 433.2M342.6 606.0L388.7 462.5M342.6 606.0L384.8 491.8M342.6 606.0L373.5 519.1M342.6 606.0L355.5 542.5M342.6 606.0L332.1 560.5M342.6 606.0L304.8 571.8M342.6 606.0L275.0 581.8M342.6 606.0L246.2 571.8M342.6 606.0L218.9 560.5M342.6 606.0L195.5 542.5M342.6 606.0L177.5 519.1M342.6 606.0L166.2 491.8M342.6 606.0L162.3 462.5M342.6 606.0L166.2 433.2M342.6 606.0L177.5 405.9M342.6 606.0L195.5 382.5M342.6 606.0L218.9 364.5M342.6 606.0L246.2 353.2M342.6 606.0L245.9 406.8M342.6 606.0L307.9 406.8M342.6 606.0L225.0 433.6M342.6 606.0L329.4 433.6M342.6 606.0L217.4 473.4M342.6 606.0L337.0 473.4M342.6 606.0L238.6 509.2M342.6 606.0L315.1 509.2M342.6 606.0L277.3 523.8M372.2 588.2L397.3 564.5M372.2 588.2L416.7 535.9M372.2 588.2L429.5 503.8M372.2 588.2L435.1 469.7M372.2 588.2L433.2 435.1M372.2 588.2L424.0 401.9M372.2 588.2L407.8 371.3M372.2 588.2L385.4 345.0M372.2 588.2L357.9 324.1M372.2 588.2L326.5 309.6M372.2 588.2L292.8 302.1M372.2 588.2L275.5 349.3M372.2 588.2L304.8 353.2M372.2 588.2L332.1 364.5M372.2 588.2L355.5 382.5M372.2 588.2L373.5 405.9M372.2 588.2L384.8 433.2M372.2 588.2L388.7 462.5M372.2 588.2L384.8 491.8M372.2 588.2L373.5 519.1M372.2 588.2L355.5 542.5M372.2 588.2L332.1 560.5M372.2 588.2L304.8 571.8M372.2 588.2L275.0 581.8M372.2 588.2L246.2 571.8M372.2 588.2L218.9 560.5M372.2 588.2L195.5 542.5M372.2 588.2L177.5 519.1M372.2 588.2L166.2 491.8M372.2 588.2L162.3 462.5M372.2 588.2L166.2 433.2M372.2 588.2L177.5 405.9M372.2 588.2L195.5 382.5M372.2 588.2L218.9 364.5M372.2 588.2L246.2 353.2M372.2 588.2L245.9 406.8M372.2 588.2L307.9 406.8M372.2 588.2L225.0 433.6M372.2 588.2L329.4 433.6M372.2 588.2L217.4 473.4M372.2 588.2L337.0 473.4M372.2 588.2L238.6 509.2M372.2 588.2L315.1 509.2M372.2 588.2L277.3 523.8M397.3 564.5L416.7 535.9M397.3 564.5L429.5 503.8M397.3 564.5L435.1 469.7M397.3 564.5L433.2 435.1M397.3 564.5L424.0 401.9M397.3 564.5L407.8 371.3M397.3 564.5L385.4 345.0M397.3 564.5L357.9 324.1M397.3 564.5L326.5 309.6M397.3 564.5L292.8 302.1M397.3 564.5L275.5 349.3M397.3 564.5L304.8 353.2M397.3 564.5L332.1 364.5M397.3 564.5L355.5 382.5M397.3 564.5L373.5 405.9M397.3 564.5L384.8 433.2M397.3 564.5L388.7 462.5M397.3 564.5L384.8 491.8M397.3 564.5L373.5 519.1M397.3 564.5L355.5 542.5M397.3 564.5L332.1 560.5M397.3 564.5L304.8 571.8M397.3 564.5L275.0 581.8M397.3 564.5L246.2 571.8M397.3 564.5L218.9 560.5M397.3 564.5L195.5 542.5M397.3 564.5L177.5 519.1M397.3 564.5L166.2 491.8M397.3 564.5L162.3 462.5M397.3 564.5L166.2 433.2M397.3 564.5L177.5 405.9M397.3 564.5L195.5 382.5M397.3 564.5L218.9 364.5M397.3 564.5L246.2 353.2M397.3 564.5L245.9 406.8M397.3 564.5L307.9 406.8M397.3 564.5L225.0 433.6M397.3 564.5L329.4 433.6M397.3 564.5L217.4 473.4M397.3 564.5L337.0 473.4M397.3 564.5L238.6 509.2M397.3 564.5L315.1 509.2M397.3 564.5L277.3 523.8M416.7 535.9L429.5 503.8M416.7 535.9L435.1 469.7M416.7 535.9L433.2 435.1M416.7 535.9L424.0 401.9M416.7 535.9L407.8 371.3M416.7 535.9L385.4 345.0M416.7 535.9L357.9 324.1M416.7 535.9L326.5 309.6M416.7 535.9L292.8 302.1M416.7 535.9L275.5 349.3M416.7 535.9L304.8 353.2M416.7 535.9L332.1 364.5M416.7 535.9L355.5 382.5M416.7 535.9L373.5 405.9M416.7 535.9L384.8 433.2M416.7 535.9L388.7 462.5M416.7 535.9L384.8 491.8M416.7 535.9L373.5 519.1M416.7 535.9L355.5 542.5M416.7 535.9L332.1 560.5M416.7 535.9L304.8 571.8M416.7 535.9L275.0 581.8M416.7 535.9L246.2 571.8M416.7 535.9L218.9 560.5M416.7 535.9L195.5 542.5M416.7 535.9L177.5 519.1M416.7 535.9L166.2 491.8M416.7 535.9L162.3 462.5M416.7 535.9L166.2 433.2M416.7 535.9L177.5 405.9M416.7 535.9L195.5 382.5M416.7 535.9L218.9 364.5M416.7 535.9L246.2 353.2M416.7 535.9L245.9 406.8M416.7 535.9L307.9 406.8M416.7 535.9L225.0 433.6M416.7 535.9L329.4 433.6M416.7 535.9L217.4 473.4M416.7 535.9L337.0 473.4M416.7 535.9L238.6 509.2M416.7 535.9L315.1 509.2M416.7 535.9L277.3 523.8M429.5 503.8L435.1 469.7M429.5 503.8L433.2 435.1M429.5 503.8L424.0 401.9M429.5 503.8L407.8 371.3M429.5 503.8L385.4 345.0M429.5 503.8L357.9 324.1M429.5 503.8L326.5 309.6M429.5 503.8L292.8 302.1M429.5 503.8L275.5 349.3M429.5 503.8L304.8 353.2M429.5 503.8L332.1 364.5M429.5 503.8L355.5 382.5M429.5 503.8L373.5 405.9M429.5 503.8L384.8 433.2M429.5 503.8L388.7 462.5M429.5 503.8L384.8 491.8M429.5 503.8L373.5 519.1M429.5 503.8L355.5 542.5M429.5 503.8L332.1 560.5M429.5 503.8L304.8 571.8M429.5 503.8L275.0 581.8M429.5 503.8L246.2 571.8M429.5 503.8L218.9 560.5M429.5 503.8L195.5 542.5M429.5 503.8L177.5 519.1M429.5 503.8L166.2 491.8M429.5 503.8L162.3 462.5M429.5 503.8L166.2 433.2M429.5 503.8L177.5 405.9M429.5 503.8L195.5 382.5M429.5 503.8L218.9 364.5M429.5 503.8L246.2 353.2M429.5 503.8L245.9 406.8M429.5 503.8L307.9 406.8M429.5 503.8L225.0 433.6M429.5 503.8L329.4 433.6M429.5 503.8L217.4 473.4M429.5 503.8L337.0 473.4M429.5 503.8L238.6 509.2M429.5 503.8L315.1 509.2M429.5 503.8L277.3 523.8M435.1 469.7L433.2 435.1M435.1 469.7L424.0 401.9M435.1 469.7L407.8 371.3M435.1 469.7L385.4 345.0M435.1 469.7L357.9 324.1M435.1 469.7L326.5 309.6M435.1 469.7L292.8 302.1M435.1 469.7L275.5 349.3M435.1 469.7L304.8 353.2M435.1 469.7L332.1 364.5M435.1 469.7L355.5 382.5M435.1 469.7L373.5 405.9M435.1 469.7L384.8 433.2M435.1 469.7L388.7 462.5M435.1 469.7L384.8 491.8M435.1 469.7L373.5 519.1M435.1 469.7L355.5 542.5M435.1 469.7L332.1 560.5M435.1 469.7L304.8 571.8M435.1 469.7L275.0 581.8M435.1 469.7L246.2 571.8M435.1 469.7L218.9 560.5M435.1 469.7L195.5 542.5M435.1 469.7L177.5 519.1M435.1 469.7L166.2 491.8M435.1 469.7L162.3 462.5M435.1 469.7L166.2 433.2M435.1 469.7L177.5 405.9M435.1 469.7L195.5 382.5M435.1 469.7L218.9 364.5M435.1 469.7L246.2 353.2M435.1 469.7L245.9 406.8M435.1 469.7L307.9 406.8M435.1 469.7L225.0 433.6M435.1 469.7L329.4 433.6M435.1 469.7L217.4 473.4M435.1 469.7L337.0 473.4M435.1 469.7L238.6 509.2M435.1 469.7L315.1 509.2M435.1 469.7L277.3 523.8M433.2 435.1L424.0 401.9M433.2 435.1L407.8 371.3M433.2 435.1L385.4 345.0M433.2 435.1L357.9 324.1M433.2 435.1L326.5 309.6M433.2 435.1L292.8 302.1M433.2 435.1L275.5 349.3M433.2 435.1L304.8 353.2M433.2 435.1L332.1 364.5M433.2 435.1L355.5 382.5M433.2 435.1L373.5 405.9M433.2 435.1L384.8 433.2M433.2 435.1L388.7 462.5M433.2 435.1L384.8 491.8M433.2 435.1L373.5 519.1M433.2 435.1L355.5 542.5M433.2 435.1L332.1 560.5M433.2 435.1L304.8 571.8M433.2 435.1L275.0 581.8M433.2 435.1L246.2 571.8M433.2 435.1L218.9 560.5M433.2 435.1L195.5 542.5M433.2 435.1L177.5 519.1M433.2 435.1L166.2 491.8M433.2 435.1L162.3 462.5M433.2 435.1L166.2 433.2M433.2 435.1L177.5 405.9M433.2 435.1L195.5 382.5M433.2 435.1L218.9 364.5M433.2 435.1L246.2 353.2M433.2 435.1L245.9 406.8M433.2 435.1L307.9 406.8M433.2 435.1L225.0 433.6M433.2 435.1L329.4 433.6M433.2 435.1L217.4 473.4M433.2 435.1L337.0 473.4M433.2 435.1L238.6 509.2M433.2 435.1L315.1 509.2M433.2 435.1L277.3 523.8M424.0 401.9L407.8 371.3M424.0 401.9L385.4 345.0M424.0 401.9L357.9 324.1M424.0 401.9L326.5 309.6M424.0 401.9L292.8 302.1M424.0 401.9L275.5 349.3M424.0 401.9L304.8 353.2M424.0 401.9L332.1 364.5M424.0 401.9L355.5 382.5M424.0 401.9L373.5 405.9M424.0 401.9L384.8 433.2M424.0 401.9L388.7 462.5M424.0 401.9L384.8 491.8M424.0 401.9L373.5 519.1M424.0 401.9L355.5 542.5M424.0 401.9L332.1 560.5M424.0 401.9L304.8 571.8M424.0 401.9L275.0 581.8M424.0 401.9L246.2 571.8M424.0 401.9L218.9 560.5M424.0 401.9L195.5 542.5M424.0 401.9L177.5 519.1M424.0 401.9L166.2 491.8M424.0 401.9L162.3 462.5M424.0 401.9L166.2 433.2M424.0 401.9L177.5 405.9M424.0 401.9L195.5 382.5M424.0 401.9L218.9 364.5M424.0 401.9L246.2 353.2M424.0 401.9L245.9 406.8M424.0 401.9L307.9 406.8M424.0 401.9L225.0 433.6M424.0 401.9L329.4 433.6M424.0 401.9L217.4 473.4M424.0 401.9L337.0 473.4M424.0 401.9L238.6 509.2M424.0 401.9L315.1 509.2M424.0 401.9L277.3 523.8M407.8 371.3L385.4 345.0M407.8 371.3L357.9 324.1M407.8 371.3L326.5 309.6M407.8 371.3L292.8 302.1M407.8 371.3L275.5 349.3M407.8 371.3L304.8 353.2M407.8 371.3L332.1 364.5M407.8 371.3L355.5 382.5M407.8 371.3L373.5 405.9M407.8 371.3L384.8 433.2M407.8 371.3L388.7 462.5M407.8 371.3L384.8 491.8M407.8 371.3L373.5 519.1M407.8 371.3L355.5 542.5M407.8 371.3L332.1 560.5M407.8 371.3L304.8 571.8M407.8 371.3L275.0 581.8M407.8 371.3L246.2 571.8M407.8 371.3L218.9 560.5M407.8 371.3L195.5 542.5M407.8 371.3L177.5 519.1M407.8 371.3L166.2 491.8M407.8 371.3L162.3 462.5M407.8 371.3L166.2 433.2M407.8 371.3L177.5 405.9M407.8 371.3L195.5 382.5M407.8 371.3L218.9 364.5M407.8 371.3L246.2 353.2M407.8 371.3L245.9 406.8M407.8 371.3L307.9 406.8M407.8 371.3L225.0 433.6M407.8 371.3L329.4 433.6M407.8 371.3L217.4 473.4M407.8 371.3L337.0 473.4M407.8 371.3L238.6 509.2M407.8 371.3L315.1 509.2M407.8 371.3L277.3 523.8M385.4 345.0L357.9 324.1M385.4 345.0L326.5 309.6M385.4 345.0L292.8 302.1M385.4 345.0L275.5 349.3M385.4 345.0L304.8 353.2M385.4 345.0L332.1 364.5M385.4 345.0L355.5 382.5M385.4 345.0L373.5 405.9M385.4 345.0L384.8 433.2M385.4 345.0L388.7 462.5M385.4 345.0L384.8 491.8M385.4 345.0L373.5 519.1M385.4 345.0L355.5 542.5M385.4 345.0L332.1 560.5M385.4 345.0L304.8 571.8M385.4 345.0L275.0 581.8M385.4 345.0L246.2 571.8M385.4 345.0L218.9 560.5M385.4 345.0L195.5 542.5M385.4 345.0L177.5 519.1M385.4 345.0L166.2 491.8M385.4 345.0L162.3 462.5M385.4 345.0L166.2 433.2M385.4 345.0L177.5 405.9M385.4 345.0L195.5 382.5M385.4 345.0L218.9 364.5M385.4 345.0L246.2 353.2M385.4 345.0L245.9 406.8M385.4 345.0L307.9 406.8M385.4 345.0L225.0 433.6M385.4 345.0L329.4 433.6M385.4 345.0L217.4 473.4M385.4 345.0L337.0 473.4M385.4 345.0L238.6 509.2M385.4 345.0L315.1 509.2M385.4 345.0L277.3 523.8M357.9 324.1L326.5 309.6M357.9 324.1L292.8 302.1M357.9 324.1L275.5 349.3M357.9 324.1L304.8 353.2M357.9 324.1L332.1 364.5M357.9 324.1L355.5 382.5M357.9 324.1L373.5 405.9M357.9 324.1L384.8 433.2M357.9 324.1L388.7 462.5M357.9 324.1L384.8 491.8M357.9 324.1L373.5 519.1M357.9 324.1L355.5 542.5M357.9 324.1L332.1 560.5M357.9 324.1L304.8 571.8M357.9 324.1L275.0 581.8M357.9 324.1L246.2 571.8M357.9 324.1L218.9 560.5M357.9 324.1L195.5 542.5M357.9 324.1L177.5 519.1M357.9 324.1L166.2 491.8M357.9 324.1L162.3 462.5M357.9 324.1L166.2 433.2M357.9 324.1L177.5 405.9M357.9 324.1L195.5 382.5M357.9 324.1L218.9 364.5M357.9 324.1L246.2 353.2M357.9 324.1L245.9 406.8M357.9 324.1L307.9 406.8M357.9 324.1L225.0 433.6M357.9 324.1L329.4 433.6M357.9 324.1L217.4 473.4M357.9 324.1L337.0 473.4M357.9 324.1L238.6 509.2M357.9 324.1L315.1 509.2M357.9 324.1L277.3 523.8M326.5 309.6L292.8 302.1M326.5 309.6L275.5 349.3M326.5 309.6L304.8 353.2M326.5 309.6L332.1 364.5M326.5 309.6L355.5 382.5M326.5 309.6L373.5 405.9M326.5 309.6L384.8 433.2M326.5 309.6L388.7 462.5M326.5 309.6L384.8 491.8M326.5 309.6L373.5 519.1M326.5 309.6L355.5 542.5M326.5 309.6L332.1 560.5M326.5 309.6L304.8 571.8M326.5 309.6L275.0 581.8M326.5 309.6L246.2 571.8M326.5 309.6L218.9 560.5M326.5 309.6L195.5 542.5M326.5 309.6L177.5 519.1M326.5 309.6L166.2 491.8M326.5 309.6L162.3 462.5M326.5 309.6L166.2 433.2M326.5 309.6L177.5 405.9M326.5 309.6L195.5 382.5M326.5 309.6L218.9 364.5M326.5 309.6L246.2 353.2M326.5 309.6L245.9 406.8M326.5 309.6L307.9 406.8M326.5 309.6L225.0 433.6M326.5 309.6L329.4 433.6M326.5 309.6L217.4 473.4M326.5 309.6L337.0 473.4M326.5 309.6L238.6 509.2M326.5 309.6L315.1 509.2M326.5 309.6L277.3 523.8M292.8 302.1L275.5 349.3M292.8 302.1L304.8 353.2M292.8 302.1L332.1 364.5M292.8 302.1L355.5 382.5M292.8 302.1L373.5 405.9M292.8 302.1L384.8 433.2M292.8 302.1L388.7 462.5M292.8 302.1L384.8 491.8M292.8 302.1L373.5 519.1M292.8 302.1L355.5 542.5M292.8 302.1L332.1 560.5M292.8 302.1L304.8 571.8M292.8 302.1L275.0 581.8M292.8 302.1L246.2 571.8M292.8 302.1L218.9 560.5M292.8 302.1L195.5 542.5M292.8 302.1L177.5 519.1M292.8 302.1L166.2 491.8M292.8 302.1L162.3 462.5M292.8 302.1L166.2 433.2M292.8 302.1L177.5 405.9M292.8 302.1L195.5 382.5M292.8 302.1L218.9 364.5M292.8 302.1L246.2 353.2M292.8 302.1L245.9 406.8M292.8 302.1L307.9 406.8M292.8 302.1L225.0 433.6M292.8 302.1L329.4 433.6M292.8 302.1L217.4 473.4M292.8 302.1L337.0 473.4M292.8 302.1L238.6 509.2M292.8 302.1L315.1 509.2M292.8 302.1L277.3 523.8M275.5 349.3L304.8 353.2M275.5 349.3L332.1 364.5M275.5 349.3L355.5 382.5M275.5 349.3L373.5 405.9M275.5 349.3L384.8 433.2M275.5 349.3L388.7 462.5M275.5 349.3L384.8 491.8M275.5 349.3L373.5 519.1M275.5 349.3L355.5 542.5M275.5 349.3L332.1 560.5M275.5 349.3L304.8 571.8M275.5 349.3L275.0 581.8M275.5 349.3L246.2 571.8M275.5 349.3L218.9 560.5M275.5 349.3L195.5 542.5M275.5 349.3L177.5 519.1M275.5 349.3L166.2 491.8M275.5 349.3L162.3 462.5M275.5 349.3L166.2 433.2M275.5 349.3L177.5 405.9M275.5 349.3L195.5 382.5M275.5 349.3L218.9 364.5M275.5 349.3L246.2 353.2M275.5 349.3L245.9 406.8M275.5 349.3L307.9 406.8M275.5 349.3L225.0 433.6M275.5 349.3L329.4 433.6M275.5 349.3L217.4 473.4M275.5 349.3L337.0 473.4M275.5 349.3L238.6 509.2M275.5 349.3L315.1 509.2M275.5 349.3L277.3 523.8M304.8 353.2L332.1 364.5M304.8 353.2L355.5 382.5M304.8 353.2L373.5 405.9M304.8 353.2L384.8 433.2M304.8 353.2L388.7 462.5M304.8 353.2L384.8 491.8M304.8 353.2L373.5 519.1M304.8 353.2L355.5 542.5M304.8 353.2L332.1 560.5M304.8 353.2L304.8 571.8M304.8 353.2L275.0 581.8M304.8 353.2L246.2 571.8M304.8 353.2L218.9 560.5M304.8 353.2L195.5 542.5M304.8 353.2L177.5 519.1M304.8 353.2L166.2 491.8M304.8 353.2L162.3 462.5M304.8 353.2L166.2 433.2M304.8 353.2L177.5 405.9M304.8 353.2L195.5 382.5M304.8 353.2L218.9 364.5M304.8 353.2L246.2 353.2M304.8 353.2L245.9 406.8M304.8 353.2L307.9 406.8M304.8 353.2L225.0 433.6M304.8 353.2L329.4 433.6M304.8 353.2L217.4 473.4M304.8 353.2L337.0 473.4M304.8 353.2L238.6 509.2M304.8 353.2L315.1 509.2M304.8 353.2L277.3 523.8M332.1 364.5L355.5 382.5M332.1 364.5L373.5 405.9M332.1 364.5L384.8 433.2M332.1 364.5L388.7 462.5M332.1 364.5L384.8 491.8M332.1 364.5L373.5 519.1M332.1 364.5L355.5 542.5M332.1 364.5L332.1 560.5M332.1 364.5L304.8 571.8M332.1 364.5L275.0 581.8M332.1 364.5L246.2 571.8M332.1 364.5L218.9 560.5M332.1 364.5L195.5 542.5M332.1 364.5L177.5 519.1M332.1 364.5L166.2 491.8M332.1 364.5L162.3 462.5M332.1 364.5L166.2 433.2M332.1 364.5L177.5 405.9M332.1 364.5L195.5 382.5M332.1 364.5L218.9 364.5M332.1 364.5L246.2 353.2M332.1 364.5L245.9 406.8M332.1 364.5L307.9 406.8M332.1 364.5L225.0 433.6M332.1 364.5L329.4 433.6M332.1 364.5L217.4 473.4M332.1 364.5L337.0 473.4M332.1 364.5L238.6 509.2M332.1 364.5L315.1 509.2M332.1 364.5L277.3 523.8M355.5 382.5L373.5 405.9M355.5 382.5L384.8 433.2M355.5 382.5L388.7 462.5M355.5 382.5L384.8 491.8M355.5 382.5L373.5 519.1M355.5 382.5L355.5 542.5M355.5 382.5L332.1 560.5M355.5 382.5L304.8 571.8M355.5 382.5L275.0 581.8M355.5 382.5L246.2 571.8M355.5 382.5L218.9 560.5M355.5 382.5L195.5 542.5M355.5 382.5L177.5 519.1M355.5 382.5L166.2 491.8M355.5 382.5L162.3 462.5M355.5 382.5L166.2 433.2M355.5 382.5L177.5 405.9M355.5 382.5L195.5 382.5M355.5 382.5L218.9 364.5M355.5 382.5L246.2 353.2M355.5 382.5L245.9 406.8M355.5 382.5L307.9 406.8M355.5 382.5L225.0 433.6M355.5 382.5L329.4 433.6M355.5 382.5L217.4 473.4M355.5 382.5L337.0 473.4M355.5 382.5L238.6 509.2M355.5 382.5L315.1 509.2M355.5 382.5L277.3 523.8M373.5 405.9L384.8 433.2M373.5 405.9L388.7 462.5M373.5 405.9L384.8 491.8M373.5 405.9L373.5 519.1M373.5 405.9L355.5 542.5M373.5 405.9L332.1 560.5M373.5 405.9L304.8 571.8M373.5 405.9L275.0 581.8M373.5 405.9L246.2 571.8M373.5 405.9L218.9 560.5M373.5 405.9L195.5 542.5M373.5 405.9L177.5 519.1M373.5 405.9L166.2 491.8M373.5 405.9L162.3 462.5M373.5 405.9L166.2 433.2M373.5 405.9L177.5 405.9M373.5 405.9L195.5 382.5M373.5 405.9L218.9 364.5M373.5 405.9L246.2 353.2M373.5 405.9L245.9 406.8M373.5 405.9L307.9 406.8M373.5 405.9L225.0 433.6M373.5 405.9L329.4 433.6M373.5 405.9L217.4 473.4M373.5 405.9L337.0 473.4M373.5 405.9L238.6 509.2M373.5 405.9L315.1 509.2M373.5 405.9L277.3 523.8M384.8 433.2L388.7 462.5M384.8 433.2L384.8 491.8M384.8 433.2L373.5 519.1M384.8 433.2L355.5 542.5M384.8 433.2L332.1 560.5M384.8 433.2L304.8 571.8M384.8 433.2L275.0 581.8M384.8 433.2L246.2 571.8M384.8 433.2L218.9 560.5M384.8 433.2L195.5 542.5M384.8 433.2L177.5 519.1M384.8 433.2L166.2 491.8M384.8 433.2L162.3 462.5M384.8 433.2L166.2 433.2M384.8 433.2L177.5 405.9M384.8 433.2L195.5 382.5M384.8 433.2L218.9 364.5M384.8 433.2L246.2 353.2M384.8 433.2L245.9 406.8M384.8 433.2L307.9 406.8M384.8 433.2L225.0 433.6M384.8 433.2L329.4 433.6M384.8 433.2L217.4 473.4M384.8 433.2L337.0 473.4M384.8 433.2L238.6 509.2M384.8 433.2L315.1 509.2M384.8 433.2L277.3 523.8M388.7 462.5L384.8 491.8M388.7 462.5L373.5 519.1M388.7 462.5L355.5 542.5M388.7 462.5L332.1 560.5M388.7 462.5L304.8 571.8M388.7 462.5L275.0 581.8M388.7 462.5L246.2 571.8M388.7 462.5L218.9 560.5M388.7 462.5L195.5 542.5M388.7 462.5L177.5 519.1M388.7 462.5L166.2 491.8M388.7 462.5L162.3 462.5M388.7 462.5L166.2 433.2M388.7 462.5L177.5 405.9M388.7 462.5L195.5 382.5M388.7 462.5L218.9 364.5M388.7 462.5L246.2 353.2M388.7 462.5L245.9 406.8M388.7 462.5L307.9 406.8M388.7 462.5L225.0 433.6M388.7 462.5L329.4 433.6M388.7 462.5L217.4 473.4M388.7 462.5L337.0 473.4M388.7 462.5L238.6 509.2M388.7 462.5L315.1 509.2M388.7 462.5L277.3 523.8M384.8 491.8L373.5 519.1M384.8 491.8L355.5 542.5M384.8 491.8L332.1 560.5M384.8 491.8L304.8 571.8M384.8 491.8L275.0 581.8M384.8 491.8L246.2 571.8M384.8 491.8L218.9 560.5M384.8 491.8L195.5 542.5M384.8 491.8L177.5 519.1M384.8 491.8L166.2 491.8M384.8 491.8L162.3 462.5M384.8 491.8L166.2 433.2M384.8 491.8L177.5 405.9M384.8 491.8L195.5 382.5M384.8 491.8L218.9 364.5M384.8 491.8L246.2 353.2M384.8 491.8L245.9 406.8M384.8 491.8L307.9 406.8M384.8 491.8L225.0 433.6M384.8 491.8L329.4 433.6M384.8 491.8L217.4 473.4M384.8 491.8L337.0 473.4M384.8 491.8L238.6 509.2M384.8 491.8L315.1 509.2M384.8 491.8L277.3 523.8M373.5 519.1L355.5 542.5M373.5 519.1L332.1 560.5M373.5 519.1L304.8 571.8M373.5 519.1L275.0 581.8M373.5 519.1L246.2 571.8M373.5 519.1L218.9 560.5M373.5 519.1L195.5 542.5M373.5 519.1L177.5 519.1M373.5 519.1L166.2 491.8M373.5 519.1L162.3 462.5M373.5 519.1L166.2 433.2M373.5 519.1L177.5 405.9M373.5 519.1L195.5 382.5M373.5 519.1L218.9 364.5M373.5 519.1L246.2 353.2M373.5 519.1L245.9 406.8M373.5 519.1L307.9 406.8M373.5 519.1L225.0 433.6M373.5 519.1L329.4 433.6M373.5 519.1L217.4 473.4M373.5 519.1L337.0 473.4M373.5 519.1L238.6 509.2M373.5 519.1L315.1 509.2M373.5 519.1L277.3 523.8M355.5 542.5L332.1 560.5M355.5 542.5L304.8 571.8M355.5 542.5L275.0 581.8M355.5 542.5L246.2 571.8M355.5 542.5L218.9 560.5M355.5 542.5L195.5 542.5M355.5 542.5L177.5 519.1M355.5 542.5L166.2 491.8M355.5 542.5L162.3 462.5M355.5 542.5L166.2 433.2M355.5 542.5L177.5 405.9M355.5 542.5L195.5 382.5M355.5 542.5L218.9 364.5M355.5 542.5L246.2 353.2M355.5 542.5L245.9 406.8M355.5 542.5L307.9 406.8M355.5 542.5L225.0 433.6M355.5 542.5L329.4 433.6M355.5 542.5L217.4 473.4M355.5 542.5L337.0 473.4M355.5 542.5L238.6 509.2M355.5 542.5L315.1 509.2M355.5 542.5L277.3 523.8M332.1 560.5L304.8 571.8M332.1 560.5L275.0 581.8M332.1 560.5L246.2 571.8M332.1 560.5L218.9 560.5M332.1 560.5L195.5 542.5M332.1 560.5L177.5 519.1M332.1 560.5L166.2 491.8M332.1 560.5L162.3 462.5M332.1 560.5L166.2 433.2M332.1 560.5L177.5 405.9M332.1 560.5L195.5 382.5M332.1 560.5L218.9 364.5M332.1 560.5L246.2 353.2M332.1 560.5L245.9 406.8M332.1 560.5L307.9 406.8M332.1 560.5L225.0 433.6M332.1 560.5L329.4 433.6M332.1 560.5L217.4 473.4M332.1 560.5L337.0 473.4M332.1 560.5L238.6 509.2M332.1 560.5L315.1 509.2M332.1 560.5L277.3 523.8M304.8 571.8L275.0 581.8M304.8 571.8L246.2 571.8M304.8 571.8L218.9 560.5M304.8 571.8L195.5 542.5M304.8 571.8L177.5 519.1M304.8 571.8L166.2 491.8M304.8 571.8L162.3 462.5M304.8 571.8L166.2 433.2M304.8 571.8L177.5 405.9M304.8 571.8L195.5 382.5M304.8 571.8L218.9 364.5M304.8 571.8L246.2 353.2M304.8 571.8L245.9 406.8M304.8 571.8L307.9 406.8M304.8 571.8L225.0 433.6M304.8 571.8L329.4 433.6M304.8 571.8L217.4 473.4M304.8 571.8L337.0 473.4M304.8 571.8L238.6 509.2M304.8 571.8L315.1 509.2M304.8 571.8L277.3 523.8M275.0 581.8L246.2 571.8M275.0 581.8L218.9 560.5M275.0 581.8L195.5 542.5M275.0 581.8L177.5 519.1M275.0 581.8L166.2 491.8M275.0 581.8L162.3 462.5M275.0 581.8L166.2 433.2M275.0 581.8L177.5 405.9M275.0 581.8L195.5 382.5M275.0 581.8L218.9 364.5M275.0 581.8L246.2 353.2M275.0 581.8L245.9 406.8M275.0 581.8L307.9 406.8M275.0 581.8L225.0 433.6M275.0 581.8L329.4 433.6M275.0 581.8L217.4 473.4M275.0 581.8L337.0 473.4M275.0 581.8L238.6 509.2M275.0 581.8L315.1 509.2M275.0 581.8L277.3 523.8M246.2 571.8L218.9 560.5M246.2 571.8L195.5 542.5M246.2 571.8L177.5 519.1M246.2 571.8L166.2 491.8M246.2 571.8L162.3 462.5M246.2 571.8L166.2 433.2M246.2 571.8L177.5 405.9M246.2 571.8L195.5 382.5M246.2 571.8L218.9 364.5M246.2 571.8L246.2 353.2M246.2 571.8L245.9 406.8M246.2 571.8L307.9 406.8M246.2 571.8L225.0 433.6M246.2 571.8L329.4 433.6M246.2 571.8L217.4 473.4M246.2 571.8L337.0 473.4M246.2 571.8L238.6 509.2M246.2 571.8L315.1 509.2M246.2 571.8L277.3 523.8M218.9 560.5L195.5 542.5M218.9 560.5L177.5 519.1M218.9 560.5L166.2 491.8M218.9 560.5L162.3 462.5M218.9 560.5L166.2 433.2M218.9 560.5L177.5 405.9M218.9 560.5L195.5 382.5M218.9 560.5L218.9 364.5M218.9 560.5L246.2 353.2M218.9 560.5L245.9 406.8M218.9 560.5L307.9 406.8M218.9 560.5L225.0 433.6M218.9 560.5L329.4 433.6M218.9 560.5L217.4 473.4M218.9 560.5L337.0 473.4M218.9 560.5L238.6 509.2M218.9 560.5L315.1 509.2M218.9 560.5L277.3 523.8M195.5 542.5L177.5 519.1M195.5 542.5L166.2 491.8M195.5 542.5L162.3 462.5M195.5 542.5L166.2 433.2M195.5 542.5L177.5 405.9M195.5 542.5L195.5 382.5M195.5 542.5L218.9 364.5M195.5 542.5L246.2 353.2M195.5 542.5L245.9 406.8M195.5 542.5L307.9 406.8M195.5 542.5L225.0 433.6M195.5 542.5L329.4 433.6M195.5 542.5L217.4 473.4M195.5 542.5L337.0 473.4M195.5 542.5L238.6 509.2M195.5 542.5L315.1 509.2M195.5 542.5L277.3 523.8M177.5 519.1L166.2 491.8M177.5 519.1L162.3 462.5M177.5 519.1L166.2 433.2M177.5 519.1L177.5 405.9M177.5 519.1L195.5 382.5M177.5 519.1L218.9 364.5M177.5 519.1L246.2 353.2M177.5 519.1L245.9 406.8M177.5 519.1L307.9 406.8M177.5 519.1L225.0 433.6M177.5 519.1L329.4 433.6M177.5 519.1L217.4 473.4M177.5 519.1L337.0 473.4M177.5 519.1L238.6 509.2M177.5 519.1L315.1 509.2M177.5 519.1L277.3 523.8M166.2 491.8L162.3 462.5M166.2 491.8L166.2 433.2M166.2 491.8L177.5 405.9M166.2 491.8L195.5 382.5M166.2 491.8L218.9 364.5M166.2 491.8L246.2 353.2M166.2 491.8L245.9 406.8M166.2 491.8L307.9 406.8M166.2 491.8L225.0 433.6M166.2 491.8L329.4 433.6M166.2 491.8L217.4 473.4M166.2 491.8L337.0 473.4M166.2 491.8L238.6 509.2M166.2 491.8L315.1 509.2M166.2 491.8L277.3 523.8M162.3 462.5L166.2 433.2M162.3 462.5L177.5 405.9M162.3 462.5L195.5 382.5M162.3 462.5L218.9 364.5M162.3 462.5L246.2 353.2M162.3 462.5L245.9 406.8M162.3 462.5L307.9 406.8M162.3 462.5L225.0 433.6M162.3 462.5L329.4 433.6M162.3 462.5L217.4 473.4M162.3 462.5L337.0 473.4M162.3 462.5L238.6 509.2M162.3 462.5L315.1 509.2M162.3 462.5L277.3 523.8M166.2 433.2L177.5 405.9M166.2 433.2L195.5 382.5M166.2 433.2L218.9 364.5M166.2 433.2L246.2 353.2M166.2 433.2L245.9 406.8M166.2 433.2L307.9 406.8M166.2 433.2L225.0 433.6M166.2 433.2L329.4 433.6M166.2 433.2L217.4 473.4M166.2 433.2L337.0 473.4M166.2 433.2L238.6 509.2M166.2 433.2L315.1 509.2M166.2 433.2L277.3 523.8M177.5 405.9L195.5 382.5M177.5 405.9L218.9 364.5M177.5 405.9L246.2 353.2M177.5 405.9L245.9 406.8M177.5 405.9L307.9 406.8M177.5 405.9L225.0 433.6M177.5 405.9L329.4 433.6M177.5 405.9L217.4 473.4M177.5 405.9L337.0 473.4M177.5 405.9L238.6 509.2M177.5 405.9L315.1 509.2M177.5 405.9L277.3 523.8M195.5 382.5L218.9 364.5M195.5 382.5L246.2 353.2M195.5 382.5L245.9 406.8M195.5 382.5L307.9 406.8M195.5 382.5L225.0 433.6M195.5 382.5L329.4 433.6M195.5 382.5L217.4 473.4M195.5 382.5L337.0 473.4M195.5 382.5L238.6 509.2M195.5 382.5L315.1 509.2M195.5 382.5L277.3 523.8M218.9 364.5L246.2 353.2M218.9 364.5L245.9 406.8M218.9 364.5L307.9 406.8M218.9 364.5L225.0 433.6M218.9 364.5L329.4 433.6M218.9 364.5L217.4 473.4M218.9 364.5L337.0 473.4M218.9 364.5L238.6 509.2M218.9 364.5L315.1 509.2M218.9 364.5L277.3 523.8M246.2 353.2L245.9 406.8M246.2 353.2L307.9 406.8M246.2 353.2L225.0 433.6M246.2 353.2L329.4 433.6M246.2 353.2L217.4 473.4M246.2 353.2L337.0 473.4M246.2 353.2L238.6 509.2M246.2 353.2L315.1 509.2M246.2 353.2L277.3 523.8M245.9 406.8L307.9 406.8M245.9 406.8L225.0 433.6M245.9 406.8L329.4 433.6M245.9 406.8L217.4 473.4M245.9 406.8L337.0 473.4M245.9 406.8L238.6 509.2M245.9 406.8L315.1 509.2M245.9 406.8L277.3 523.8M307.9 406.8L225.0 433.6M307.9 406.8L329.4 433.6M307.9 406.8L217.4 473.4M307.9 406.8L337.0 473.4M307.9 406.8L238.6 509.2M307.9 406.8L315.1 509.2M307.9 406.8L277.3 523.8M225.0 433.6L329.4 433.6M225.0 433.6L217.4 473.4M225.0 433.6L337.0 473.4M225.0 433.6L238.6 509.2M225.0 433.6L315.1 509.2M225.0 433.6L277.3 523.8M329.4 433.6L217.4 473.4M329.4 433.6L337.0 473.4M329.4 433.6L238.6 509.2M329.4 433.6L315.1 509.2M329.4 433.6L277.3 523.8M217.4 473.4L337.0 473.4M217.4 473.4L238.6 509.2M217.4 473.4L315.1 509.2M217.4 473.4L277.3 523.8M337.0 473.4L238.6 509.2M337.0 473.4L315.1 509.2M337.0 473.4L277.3 523.8M238.6 509.2L315.1 509.2M238.6 509.2L277.3 523.8M315.1 509.2L277.3 523.8" fill="none" stroke="#b8a49b" stroke-width="0.34" stroke-opacity="0.25"/>
<path d="M275.6 625.0L115.9 469.7M275.6 625.0L165.6 345.0M275.6 625.0L224.5 309.6M275.6 625.0L342.6 606.0M275.6 625.0L435.1 469.7M275.6 625.0L433.2 435.1M275.6 625.0L407.8 371.3M275.6 625.0L385.4 345.0M275.6 625.0L326.5 309.6M275.6 625.0L195.5 542.5M275.6 625.0L218.9 364.5M275.6 625.0L246.2 353.2M275.6 625.0L217.4 473.4M275.6 625.0L277.3 523.8M241.1 617.1L134.3 535.9M241.1 617.1L115.9 469.7M241.1 617.1L117.8 435.1M241.1 617.1L143.2 371.3M241.1 617.1L224.5 309.6M241.1 617.1L310.8 614.5M241.1 617.1L372.2 588.2M241.1 617.1L416.7 535.9M241.1 617.1L385.4 345.0M241.1 617.1L275.5 349.3M241.1 617.1L332.1 364.5M241.1 617.1L384.8 491.8M241.1 617.1L373.5 519.1M241.1 617.1L162.3 462.5M241.1 617.1L166.2 433.2M241.1 617.1L246.2 353.2M241.1 617.1L225.0 433.6M241.1 617.1L315.1 509.2M241.1 617.1L277.3 523.8M208.4 606.0L143.2 371.3M208.4 606.0L193.1 324.1M208.4 606.0L416.7 535.9M208.4 606.0L429.5 503.8M208.4 606.0L424.0 401.9M208.4 606.0L407.8 371.3M208.4 606.0L326.5 309.6M208.4 606.0L384.8 433.2M208.4 606.0L388.7 462.5M208.4 606.0L384.8 491.8M208.4 606.0L304.8 571.8M208.4 606.0L166.2 491.8M178.8 588.2L117.8 435.1M178.8 588.2L397.3 564.5M178.8 588.2L429.5 503.8M178.8 588.2L275.5 349.3M178.8 588.2L355.5 382.5M178.8 588.2L373.5 405.9M178.8 588.2L304.8 571.8M178.8 588.2L166.2 433.2M178.8 588.2L225.0 433.6M178.8 588.2L337.0 473.4M153.7 564.5L127.0 401.9M153.7 564.5L143.2 371.3M153.7 564.5L193.1 324.1M153.7 564.5L372.2 588.2M153.7 564.5L397.3 564.5M153.7 564.5L429.5 503.8M153.7 564.5L424.0 401.9M153.7 564.5L407.8 371.3M153.7 564.5L355.5 382.5M153.7 564.5L384.8 433.2M153.7 564.5L388.7 462.5M153.7 564.5L355.5 542.5M153.7 564.5L166.2 433.2M153.7 564.5L218.9 364.5M134.3 535.9L121.5 503.8M134.3 535.9L165.6 345.0M134.3 535.9L435.1 469.7M134.3 535.9L357.9 324.1M134.3 535.9L292.8 302.1M134.3 535.9L304.8 353.2M134.3 535.9L373.5 405.9M134.3 535.9L384.8 433.2M134.3 535.9L246.2 571.8M134.3 535.9L225.0 433.6M134.3 535.9L315.1 509.2M121.5 503.8L127.0 401.9M121.5 503.8L372.2 588.2M121.5 503.8L407.8 371.3M121.5 503.8L304.8 353.2M121.5 503.8L373.5 405.9M121.5 503.8L388.7 462.5M121.5 503.8L384.8 491.8M121.5 503.8L246.2 571.8M121.5 503.8L195.5 542.5M121.5 503.8L162.3 462.5M121.5 503.8L245.9 406.8M121.5 503.8L307.9 406.8M115.9 469.7L258.2 302.1M115.9 469.7L372.2 588.2M115.9 469.7L435.1 469.7M115.9 469.7L385.4 345.0M115.9 469.7L292.8 302.1M115.9 469.7L275.5 349.3M115.9 469.7L373.5 405.9M115.9 469.7L355.5 542.5M115.9 469.7L332.1 560.5M115.9 469.7L304.8 571.8M115.9 469.7L275.0 581.8M115.9 469.7L177.5 519.1M115.9 469.7L166.2 491.8M115.9 469.7L162.3 462.5M115.9 469.7L218.9 364.5M115.9 469.7L246.2 353.2M115.9 469.7L277.3 523.8M117.8 435.1L165.6 345.0M117.8 435.1L310.8 614.5M117.8 435.1L342.6 606.0M117.8 435.1L397.3 564.5M117.8 435.1L246.2 571.8M117.8 435.1L177.5 519.1M127.0 401.9L143.2 371.3M127.0 401.9L310.8 614.5M127.0 401.9L342.6 606.0M127.0 401.9L397.3 564.5M127.0 401.9L292.8 302.1M127.0 401.9L332.1 364.5M127.0 401.9L373.5 405.9M127.0 401.9L388.7 462.5M127.0 401.9L355.5 542.5M127.0 401.9L195.5 382.5M127.0 401.9L246.2 353.2M127.0 401.9L245.9 406.8M127.0 401.9L337.0 473.4M127.0 401.9L277.3 523.8M143.2 371.3L424.0 401.9M143.2 371.3L357.9 324.1M143.2 371.3L326.5 309.6M143.2 371.3L275.5 349.3M143.2 371.3L246.2 571.8M143.2 371.3L245.9 406.8M143.2 371.3L337.0 473.4M143.2 371.3L238.6 509.2M165.6 345.0L224.5 309.6M165.6 345.0L310.8 614.5M165.6 345.0L342.6 606.0M165.6 345.0L433.2 435.1M165.6 345.0L357.9 324.1M165.6 345.0L326.5 309.6M165.6 345.0L332.1 364.5M165.6 345.0L195.5 542.5M165.6 345.0L166.2 491.8M165.6 345.0L162.3 462.5M165.6 345.0L245.9 406.8M165.6 345.0L307.9 406.8M165.6 345.0L329.4 433.6M165.6 345.0L277.3 523.8M193.1 324.1L342.6 606.0M193.1 324.1L388.7 462.5M193.1 324.1L275.0 581.8M193.1 324.1L177.5 519.1M193.1 324.1L246.2 353.2M193.1 324.1L225.0 433.6M193.1 324.1L329.4 433.6M193.1 324.1L238.6 509.2M193.1 324.1L277.3 523.8M224.5 309.6L195.5 542.5M224.5 309.6L166.2 433.2M224.5 309.6L177.5 405.9M224.5 309.6L245.9 406.8M224.5 309.6L225.0 433.6M224.5 309.6L337.0 473.4M224.5 309.6L238.6 509.2M258.2 302.1L342.6 606.0M258.2 302.1L372.2 588.2M258.2 302.1L397.3 564.5M258.2 302.1L416.7 535.9M258.2 302.1L407.8 371.3M258.2 302.1L357.9 324.1M258.2 302.1L304.8 571.8M258.2 302.1L195.5 382.5M258.2 302.1L329.4 433.6M258.2 302.1L217.4 473.4M310.8 614.5L429.5 503.8M310.8 614.5L433.2 435.1M310.8 614.5L357.9 324.1M310.8 614.5L275.5 349.3M310.8 614.5L332.1 560.5M310.8 614.5L275.0 581.8M310.8 614.5L195.5 542.5M310.8 614.5L166.2 433.2M310.8 614.5L307.9 406.8M310.8 614.5L315.1 509.2M342.6 606.0L435.1 469.7M342.6 606.0L407.8 371.3M342.6 606.0L384.8 433.2M342.6 606.0L246.2 571.8M342.6 606.0L218.9 560.5M342.6 606.0L195.5 542.5M342.6 606.0L162.3 462.5M342.6 606.0L218.9 364.5M342.6 606.0L245.9 406.8M342.6 606.0L307.9 406.8M342.6 606.0L329.4 433.6M372.2 588.2L433.2 435.1M372.2 588.2L275.5 349.3M372.2 588.2L373.5 405.9M372.2 588.2L332.1 560.5M372.2 588.2L177.5 519.1M372.2 588.2L218.9 364.5M372.2 588.2L307.9 406.8M372.2 588.2L225.0 433.6M397.3 564.5L429.5 503.8M397.3 564.5L433.2 435.1M397.3 564.5L355.5 382.5M397.3 564.5L332.1 560.5M397.3 564.5L275.0 581.8M397.3 564.5L246.2 571.8M397.3 564.5L218.9 560.5M397.3 564.5L245.9 406.8M397.3 564.5L307.9 406.8M397.3 564.5L329.4 433.6M397.3 564.5L238.6 509.2M416.7 535.9L424.0 401.9M416.7 535.9L385.4 345.0M416.7 535.9L162.3 462.5M416.7 535.9L225.0 433.6M416.7 535.9L329.4 433.6M416.7 535.9L315.1 509.2M429.5 503.8L357.9 324.1M429.5 503.8L373.5 519.1M429.5 503.8L332.1 560.5M429.5 503.8L246.2 571.8M429.5 503.8L166.2 491.8M429.5 503.8L246.2 353.2M429.5 503.8L245.9 406.8M429.5 503.8L315.1 509.2M435.1 469.7L407.8 371.3M435.1 469.7L292.8 302.1M435.1 469.7L332.1 364.5M435.1 469.7L373.5 405.9M435.1 469.7L388.7 462.5M435.1 469.7L384.8 491.8M435.1 469.7L246.2 571.8M435.1 469.7L166.2 491.8M435.1 469.7L195.5 382.5M435.1 469.7L218.9 364.5M433.2 435.1L357.9 324.1M433.2 435.1L332.1 364.5M433.2 435.1L384.8 491.8M433.2 435.1L246.2 571.8M433.2 435.1L177.5 519.1M433.2 435.1L218.9 364.5M424.0 401.9L385.4 345.0M424.0 401.9L326.5 309.6M424.0 401.9L332.1 560.5M424.0 401.9L195.5 542.5M424.0 401.9L177.5 519.1M424.0 401.9L166.2 491.8M424.0 401.9L246.2 353.2M424.0 401.9L337.0 473.4M424.0 401.9L315.1 509.2M407.8 371.3L275.5 349.3M407.8 371.3L332.1 364.5M407.8 371.3L373.5 405.9M407.8 371.3L373.5 519.1M407.8 371.3L304.8 571.8M407.8 371.3L246.2 571.8M407.8 371.3L166.2 491.8M407.8 371.3L177.5 405.9M407.8 371.3L246.2 353.2M407.8 371.3L329.4 433.6M407.8 371.3L217.4 473.4M385.4 345.0L388.7 462.5M385.4 345.0L355.5 542.5M385.4 345.0L177.5 405.9M385.4 345.0L218.9 364.5M385.4 345.0L245.9 406.8M385.4 345.0L307.9 406.8M385.4 345.0L225.0 433.6M357.9 324.1L326.5 309.6M357.9 324.1L275.5 349.3M357.9 324.1L373.5 405.9M357.9 324.1L384.8 433.2M357.9 324.1L275.0 581.8M357.9 324.1L162.3 462.5M357.9 324.1L195.5 382.5M357.9 324.1L225.0 433.6M357.9 324.1L337.0 473.4M357.9 324.1L238.6 509.2M357.9 324.1L277.3 523.8M326.5 309.6L332.1 364.5M326.5 309.6L384.8 491.8M326.5 309.6L373.5 519.1M326.5 309.6L166.2 491.8M326.5 309.6L162.3 462.5M326.5 309.6L166.2 433.2M326.5 309.6L329.4 433.6M292.8 302.1L304.8 353.2M292.8 302.1L373.5 405.9M292.8 302.1L355.5 542.5M292.8 302.1L275.0 581.8M292.8 302.1L195.5 542.5M292.8 302.1L162.3 462.5M292.8 302.1L246.2 353.2M292.8 302.1L225.0 433.6M292.8 302.1L217.4 473.4M275.5 349.3L332.1 364.5M275.5 349.3L373.5 519.1M275.5 349.3L307.9 406.8M275.5 349.3L225.0 433.6M275.5 349.3L315.1 509.2M275.5 349.3L277.3 523.8M304.8 353.2L384.8 433.2M304.8 353.2L307.9 406.8M332.1 364.5L388.7 462.5M332.1 364.5L373.5 519.1M332.1 364.5L355.5 542.5M332.1 364.5L332.1 560.5M332.1 364.5L304.8 571.8M332.1 364.5L246.2 571.8M332.1 364.5L166.2 491.8M332.1 364.5L177.5 405.9M355.5 382.5L332.1 560.5M355.5 382.5L218.9 560.5M355.5 382.5L195.5 542.5M355.5 382.5L166.2 433.2M355.5 382.5L225.0 433.6M355.5 382.5L217.4 473.4M355.5 382.5L337.0 473.4M373.5 405.9L384.8 433.2M373.5 405.9L384.8 491.8M373.5 405.9L246.2 353.2M373.5 405.9L245.9 406.8M373.5 405.9L307.9 406.8M373.5 405.9L337.0 473.4M373.5 405.9L315.1 509.2M384.8 433.2L388.7 462.5M384.8 433.2L246.2 571.8M384.8 433.2L218.9 560.5M384.8 433.2L166.2 491.8M384.8 433.2L162.3 462.5M384.8 433.2L195.5 382.5M384.8 433.2L329.4 433.6M388.7 462.5L275.0 581.8M388.7 462.5L246.2 571.8M388.7 462.5L218.9 560.5M388.7 462.5L195.5 542.5M388.7 462.5L177.5 519.1M388.7 462.5L195.5 382.5M388.7 462.5L218.9 364.5M388.7 462.5L245.9 406.8M384.8 491.8L355.5 542.5M384.8 491.8L195.5 542.5M384.8 491.8L217.4 473.4M384.8 491.8L315.1 509.2M373.5 519.1L304.8 571.8M373.5 519.1L275.0 581.8M373.5 519.1L246.2 571.8M373.5 519.1L177.5 519.1M373.5 519.1L218.9 364.5M373.5 519.1L225.0 433.6M373.5 519.1L238.6 509.2M355.5 542.5L332.1 560.5M355.5 542.5L195.5 542.5M355.5 542.5L162.3 462.5M355.5 542.5L218.9 364.5M355.5 542.5L337.0 473.4M332.1 560.5L162.3 462.5M332.1 560.5L245.9 406.8M304.8 571.8L275.0 581.8M304.8 571.8L246.2 353.2M304.8 571.8L315.1 509.2M275.0 581.8L218.9 560.5M275.0 581.8L307.9 406.8M275.0 581.8L329.4 433.6M275.0 581.8L217.4 473.4M275.0 581.8L277.3 523.8M246.2 571.8L218.9 560.5M246.2 571.8L166.2 433.2M246.2 571.8L195.5 382.5M246.2 571.8L307.9 406.8M246.2 571.8L217.4 473.4M218.9 560.5L166.2 491.8M218.9 560.5L162.3 462.5M218.9 560.5L195.5 382.5M218.9 560.5L218.9 364.5M218.9 560.5L225.0 433.6M195.5 542.5L177.5 519.1M177.5 519.1L246.2 353.2M166.2 491.8L162.3 462.5M166.2 491.8L329.4 433.6M166.2 491.8L337.0 473.4M162.3 462.5L246.2 353.2M166.2 433.2L225.0 433.6M166.2 433.2L238.6 509.2M166.2 433.2L277.3 523.8M177.5 405.9L218.9 364.5M177.5 405.9L307.9 406.8M177.5 405.9L225.0 433.6M195.5 382.5L246.2 353.2M195.5 382.5L307.9 406.8M195.5 382.5L337.0 473.4M218.9 364.5L246.2 353.2M218.9 364.5L329.4 433.6M218.9 364.5L337.0 473.4M218.9 364.5L238.6 509.2M246.2 353.2L329.4 433.6M246.2 353.2L217.4 473.4M245.9 406.8L307.9 406.8M245.9 406.8L329.4 433.6M307.9 406.8L217.4 473.4M307.9 406.8L337.0 473.4M225.0 433.6L329.4 433.6M225.0 433.6L337.0 473.4M225.0 433.6L238.6 509.2M329.4 433.6L238.6 509.2M329.4 433.6L277.3 523.8M217.4 473.4L238.6 509.2" fill="none" stroke="#b8a69e" stroke-width="0.3" stroke-opacity="0.1"/>
<circle cx="275.6" cy="625.0" r="5.2" fill="#aade9b"/>
<circle cx="241.1" cy="617.1" r="5.2" fill="#8f9fc7"/>
<circle cx="208.4" cy="606.0" r="5.2" fill="#8f9fc7"/>
<circle cx="178.8" cy="588.2" r="5.2" fill="#8f9fc7"/>
<circle cx="153.7" cy="564.5" r="5.2" fill="#8f9fc7"/>
<circle cx="134.3" cy="535.9" r="5.2" fill="#8f9fc7"/>
<circle cx="121.5" cy="503.8" r="5.2" fill="#8f9fc7"/>
<circle cx="115.9" cy="469.7" r="5.2" fill="#8f9fc7"/>
<circle cx="117.8" cy="435.1" r="5.2" fill="#8f9fc7"/>
<circle cx="127.0" cy="401.9" r="5.2" fill="#8f9fc7"/>
<circle cx="143.2" cy="371.3" r="5.2" fill="#8f9fc7"/>
<circle cx="165.6" cy="345.0" r="5.2" fill="#8f9fc7"/>
<circle cx="193.1" cy="324.1" r="5.2" fill="#8f9fc7"/>
<circle cx="224.5" cy="309.6" r="5.2" fill="#8f9fc7"/>
<circle cx="258.2" cy="302.1" r="5.2" fill="#8f9fc7"/>
<circle cx="310.8" cy="614.5" r="5.2" fill="#8f9fc7"/>
<circle cx="342.6" cy="606.0" r="5.2" fill="#c99ccb"/>
<circle cx="372.2" cy="588.2" r="5.2" fill="#8f9fc7"/>
<circle cx="397.3" cy="564.5" r="5.2" fill="#c99ccb"/>
<circle cx="416.7" cy="535.9" r="5.2" fill="#8f9fc7"/>
<circle cx="429.5" cy="503.8" r="5.2" fill="#8f9fc7"/>
<circle cx="435.1" cy="469.7" r="5.2" fill="#8f9fc7"/>
<circle cx="433.2" cy="435.1" r="5.2" fill="#8f9fc7"/>
<circle cx="424.0" cy="401.9" r="5.2" fill="#8f9fc7"/>
<circle cx="407.8" cy="371.3" r="5.2" fill="#8f9fc7"/>
<circle cx="385.4" cy="345.0" r="5.2" fill="#8f9fc7"/>
<circle cx="357.9" cy="324.1" r="5.2" fill="#8f9fc7"/>
<circle cx="326.5" cy="309.6" r="5.2" fill="#8f9fc7"/>
<circle cx="292.8" cy="302.1" r="5.2" fill="#8f9fc7"/>
<circle cx="275.5" cy="349.3" r="5.2" fill="#8f9fc7"/>
<circle cx="304.8" cy="353.2" r="5.2" fill="#8f9fc7"/>
<circle cx="332.1" cy="364.5" r="5.2" fill="#8f9fc7"/>
<circle cx="355.5" cy="382.5" r="5.2" fill="#8f9fc7"/>
<circle cx="373.5" cy="405.9" r="5.2" fill="#8f9fc7"/>
<circle cx="384.8" cy="433.2" r="5.2" fill="#8f9fc7"/>
<circle cx="388.7" cy="462.5" r="5.2" fill="#aade9b"/>
<circle cx="384.8" cy="491.8" r="5.2" fill="#8f9fc7"/>
<circle cx="373.5" cy="519.1" r="5.2" fill="#8f9fc7"/>
<circle cx="355.5" cy="542.5" r="5.2" fill="#8f9fc7"/>
<circle cx="332.1" cy="560.5" r="5.2" fill="#8f9fc7"/>
<circle cx="304.8" cy="571.8" r="5.2" fill="#8f9fc7"/>
<circle cx="275.0" cy="581.8" r="5.2" fill="#c99ccb"/>
<circle cx="246.2" cy="571.8" r="5.2" fill="#8f9fc7"/>
<circle cx="218.9" cy="560.5" r="5.2" fill="#8f9fc7"/>
<circle cx="195.5" cy="542.5" r="5.2" fill="#8f9fc7"/>
<circle cx="177.5" cy="519.1" r="5.2" fill="#8f9fc7"/>
<circle cx="166.2" cy="491.8" r="5.2" fill="#8f9fc7"/>
<circle cx="162.3" cy="462.5" r="5.2" fill="#8f9fc7"/>
<circle cx="166.2" cy="433.2" r="5.2" fill="#8f9fc7"/>
<circle cx="177.5" cy="405.9" r="5.2" fill="#8f9fc7"/>
<circle cx="195.5" cy="382.5" r="5.2" fill="#8f9fc7"/>
<circle cx="218.9" cy="364.5" r="5.2" fill="#8f9fc7"/>
<circle cx="246.2" cy="353.2" r="5.2" fill="#8f9fc7"/>
<circle cx="245.9" cy="406.8" r="5.2" fill="#f3945e"/>
<circle cx="307.9" cy="406.8" r="5.2" fill="#f3945e"/>
<circle cx="225.0" cy="433.6" r="5.2" fill="#f3945e"/>
<circle cx="329.4" cy="433.6" r="5.2" fill="#f3945e"/>
<circle cx="217.4" cy="473.4" r="5.2" fill="#f3945e"/>
<circle cx="337.0" cy="473.4" r="5.2" fill="#f3945e"/>
<circle cx="238.6" cy="509.2" r="5.2" fill="#f3945e"/>
<circle cx="315.1" cy="509.2" r="5.2" fill="#f3945e"/>
<circle cx="277.3" cy="523.8" r="5.2" fill="#f3945e"/>
<g font-size="3.95" text-anchor="middle" fill="#0a0a0a" stroke="#0a0a0a" stroke-width="0.02" style="text-rendering:auto">
<text x="241.1" y="618.5">CHR00092708</text>
<text x="208.4" y="607.4">novel.33441</text>
<text x="178.8" y="589.6">CHR00084658</text>
<text x="153.7" y="565.9">CHR00028190</text>
<text x="134.3" y="537.3">CHR00029337</text>
<text x="121.5" y="505.2">CHR00067329</text>
<text x="115.9" y="471.1">CHR00047549</text>
<text x="117.8" y="436.5">CHR00068307</text>
<text x="127.0" y="403.3">CHR00027010</text>
<text x="143.2" y="372.7">CHR00010378</text>
<text x="165.6" y="346.4">CHR00079085</text>
<text x="193.1" y="325.5">CHR00056164</text>
<text x="224.5" y="311.0">CHR00071300</text>
<text x="258.2" y="303.5">CHR00067306</text>
<text x="310.8" y="615.9">CHR00039026</text>
<text x="372.2" y="589.6">CHR00057394</text>
<text x="416.7" y="537.3">CHR00071659</text>
<text x="429.5" y="505.2">CHR00085731</text>
<text x="435.1" y="471.1">CHR00081210</text>
<text x="433.2" y="436.5">CHR00047357</text>
<text x="424.0" y="403.3">CHR00062429</text>
<text x="407.8" y="372.7">CHR00092814</text>
<text x="385.4" y="346.4">CHR00073765</text>
<text x="357.9" y="325.5">CHR00057825</text>
<text x="326.5" y="311.0">CHR00072888</text>
<text x="292.8" y="303.5">novel.21658</text>
<text x="275.5" y="350.7">CHR00056848</text>
<text x="304.8" y="354.6">CHR00045872</text>
<text x="332.1" y="365.9">CHR00047496</text>
<text x="355.5" y="383.9">novel.25974</text>
<text x="373.5" y="407.3">CHR00062756</text>
<text x="384.8" y="434.6">novel.27507</text>
<text x="384.8" y="493.2">CHR00047066</text>
<text x="373.5" y="520.5">CHR00048776</text>
<text x="355.5" y="543.9">CHR00039082</text>
<text x="332.1" y="561.9">CHR00070074</text>
<text x="304.8" y="573.2">CHR00024790</text>
<text x="246.2" y="573.2">CHR00055945</text>
<text x="218.9" y="561.9">CHR00055462</text>
<text x="195.5" y="543.9">CHR00076724</text>
<text x="177.5" y="520.5">CHR00078929</text>
<text x="166.2" y="493.2">CHR00041304</text>
<text x="162.3" y="463.9">novel.30333</text>
<text x="166.2" y="434.6">CHR00068088</text>
<text x="177.5" y="407.3">CHR00041212</text>
<text x="195.5" y="383.9">CHR00001531</text>
<text x="218.9" y="365.9">CHR00016359</text>
<text x="246.2" y="354.6">CHR00012094</text>
</g>
<g font-size="6.45" text-anchor="middle" fill="#1a1a1a" stroke="#1a1a1a" stroke-width="0.07">
<text x="275.9" y="627.3">CHR00062424(UGT)</text>
<text x="342.9" y="608.3">CHR00052965(C2H2)</text>
<text x="397.6" y="566.8">CHR00007360(GRAS)</text>
<text x="389.0" y="464.8">CHR00016739(UGT)</text>
<text x="275.3" y="584.1">CHR00002022(CmNAC1)</text>
<text x="246.2" y="409.1">novel.34811(ANS)</text>
<text x="308.2" y="409.1">CHR00035770(F3'H)</text>
<text x="225.3" y="435.9">CHR00058077(DFR)</text>
<text x="329.7" y="435.9">novel.14850(3GT)</text>
<text x="217.7" y="475.7">CHR00058326(PAL)</text>
<text x="337.3" y="475.7">CHR00038381(3GT)</text>
<text x="238.9" y="511.5">CHR00058078(DFR)</text>
<text x="315.4" y="511.5">CHR00027766(FLS)</text>
<text x="277.6" y="526.1">CHR00018247(3MAT1)</text>
</g>
</g>
</svg>
</body></html>
